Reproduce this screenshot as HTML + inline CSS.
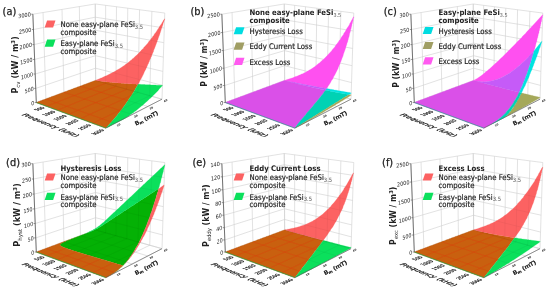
<!DOCTYPE html>
<html><head><meta charset="utf-8"><style>
html,body{margin:0;padding:0;background:#fff;width:550px;height:290px;overflow:hidden}
svg{display:block}
text{font-family:'DejaVu Sans Condensed','DejaVu Sans','Liberation Sans',sans-serif;font-stretch:condensed;}
</style></head><body>
<svg width="550" height="290" viewBox="0 0 550 290">
<rect width="550" height="290" fill="#fff"/>
<line x1="36.30" y1="102.54" x2="95.65" y2="80.51" stroke="#cfcfcf" stroke-width="0.6"/>
<line x1="95.65" y1="80.51" x2="162.00" y2="99.17" stroke="#cfcfcf" stroke-width="0.6"/>
<line x1="35.75" y1="88.40" x2="95.59" y2="68.19" stroke="#cfcfcf" stroke-width="0.6"/>
<line x1="95.59" y1="68.19" x2="162.45" y2="85.37" stroke="#cfcfcf" stroke-width="0.6"/>
<line x1="35.19" y1="74.03" x2="95.52" y2="55.70" stroke="#cfcfcf" stroke-width="0.6"/>
<line x1="95.52" y1="55.70" x2="162.90" y2="71.36" stroke="#cfcfcf" stroke-width="0.6"/>
<line x1="34.63" y1="59.44" x2="95.45" y2="43.04" stroke="#cfcfcf" stroke-width="0.6"/>
<line x1="95.45" y1="43.04" x2="163.35" y2="57.12" stroke="#cfcfcf" stroke-width="0.6"/>
<line x1="34.05" y1="44.60" x2="95.39" y2="30.20" stroke="#cfcfcf" stroke-width="0.6"/>
<line x1="95.39" y1="30.20" x2="163.82" y2="42.66" stroke="#cfcfcf" stroke-width="0.6"/>
<line x1="33.47" y1="29.52" x2="95.32" y2="17.19" stroke="#cfcfcf" stroke-width="0.6"/>
<line x1="95.32" y1="17.19" x2="164.29" y2="27.97" stroke="#cfcfcf" stroke-width="0.6"/>
<line x1="32.87" y1="14.19" x2="95.25" y2="3.98" stroke="#cfcfcf" stroke-width="0.6"/>
<line x1="95.25" y1="3.98" x2="164.77" y2="13.04" stroke="#cfcfcf" stroke-width="0.6"/>
<line x1="36.30" y1="102.54" x2="32.87" y2="14.19" stroke="#cfcfcf" stroke-width="0.6"/>
<line x1="45.92" y1="98.97" x2="43.04" y2="12.52" stroke="#cfcfcf" stroke-width="0.6"/>
<line x1="63.92" y1="92.28" x2="62.01" y2="9.42" stroke="#cfcfcf" stroke-width="0.6"/>
<line x1="80.44" y1="86.15" x2="79.35" y2="6.58" stroke="#cfcfcf" stroke-width="0.6"/>
<line x1="95.65" y1="80.51" x2="95.25" y2="3.98" stroke="#cfcfcf" stroke-width="0.6"/>
<line x1="95.65" y1="80.51" x2="95.25" y2="3.98" stroke="#cfcfcf" stroke-width="0.6"/>
<line x1="105.62" y1="83.31" x2="105.65" y2="5.34" stroke="#cfcfcf" stroke-width="0.6"/>
<line x1="115.99" y1="86.23" x2="116.48" y2="6.75" stroke="#cfcfcf" stroke-width="0.6"/>
<line x1="126.79" y1="89.26" x2="127.78" y2="8.22" stroke="#cfcfcf" stroke-width="0.6"/>
<line x1="138.04" y1="92.43" x2="139.57" y2="9.76" stroke="#cfcfcf" stroke-width="0.6"/>
<line x1="149.76" y1="95.72" x2="151.89" y2="11.36" stroke="#cfcfcf" stroke-width="0.6"/>
<line x1="162.00" y1="99.17" x2="164.77" y2="13.04" stroke="#cfcfcf" stroke-width="0.6"/>
<line x1="46.55" y1="106.31" x2="105.62" y2="83.31" stroke="#cfcfcf" stroke-width="0.6"/>
<line x1="57.28" y1="110.25" x2="115.99" y2="86.23" stroke="#cfcfcf" stroke-width="0.6"/>
<line x1="68.53" y1="114.39" x2="126.79" y2="89.26" stroke="#cfcfcf" stroke-width="0.6"/>
<line x1="80.33" y1="118.73" x2="138.04" y2="92.43" stroke="#cfcfcf" stroke-width="0.6"/>
<line x1="92.73" y1="123.29" x2="149.76" y2="95.72" stroke="#cfcfcf" stroke-width="0.6"/>
<line x1="105.77" y1="128.08" x2="162.00" y2="99.17" stroke="#cfcfcf" stroke-width="0.6"/>
<line x1="45.92" y1="98.97" x2="115.05" y2="123.31" stroke="#cfcfcf" stroke-width="0.6"/>
<line x1="63.92" y1="92.28" x2="132.24" y2="114.47" stroke="#cfcfcf" stroke-width="0.6"/>
<line x1="80.44" y1="86.15" x2="147.82" y2="106.46" stroke="#cfcfcf" stroke-width="0.6"/>
<line x1="95.65" y1="80.51" x2="162.00" y2="99.17" stroke="#cfcfcf" stroke-width="0.6"/>
<path d="M105.88 128.25 L101.88 126.75 L101.38 126.75 L100.62 126.25 L99.38 126.00 L98.62 125.50 L96.62 125.00 L95.88 124.50 L93.88 124.00 L91.12 122.75 L89.12 122.25 L86.38 121.00 L84.38 120.50 L83.62 120.00 L82.38 119.75 L79.62 118.50 L77.62 118.00 L76.88 117.50 L74.88 117.00 L74.12 116.50 L72.12 116.00 L69.38 114.75 L67.38 114.25 L64.62 113.00 L62.62 112.50 L59.88 111.25 L57.88 110.75 L57.12 110.25 L56.62 110.25 L55.62 109.75 L55.12 109.75 L54.38 109.25 L53.12 109.00 L50.38 107.75 L49.88 107.75 L49.62 107.50 L48.38 107.25 L47.62 106.75 L45.62 106.25 L42.88 105.00 L40.88 104.50 L40.12 104.00 L36.88 103.00 L36.38 102.75 L36.25 102.38 L37.62 102.00 L38.38 101.50 L39.62 101.25 L40.38 100.75 L41.62 100.50 L42.38 100.00 L44.38 99.50 L45.12 99.00 L46.38 98.75 L47.12 98.25 L48.38 98.00 L49.12 97.50 L50.38 97.25 L51.12 96.75 L55.12 95.50 L55.88 95.00 L57.12 94.75 L57.88 94.25 L59.12 94.00 L59.88 93.50 L61.12 93.25 L61.88 92.75 L62.38 92.75 L63.38 92.25 L63.88 92.25 L64.62 91.75 L66.62 91.25 L68.62 90.25 L70.62 89.75 L71.38 89.25 L72.62 89.00 L73.38 88.50 L76.62 87.50 L77.38 87.00 L79.38 86.50 L80.12 86.00 L81.38 85.75 L84.12 84.50 L86.12 84.00 L86.88 83.50 L88.12 83.25 L88.88 82.75 L89.38 82.75 L90.88 82.00 L92.12 81.75 L92.88 81.25 L94.12 81.00 L94.88 80.50 L96.88 80.50 L97.12 80.75 L100.38 81.00 L100.62 81.25 L104.62 81.50 L104.88 81.75 L106.88 81.75 L107.12 82.00 L109.38 82.00 L109.62 82.25 L111.88 82.25 L112.12 82.50 L114.62 82.50 L114.88 82.75 L117.62 82.75 L117.88 83.00 L120.88 83.00 L121.12 83.25 L124.12 83.25 L124.38 83.50 L127.88 83.50 L128.12 83.75 L131.88 83.75 L132.12 84.00 L135.88 84.00 L136.12 84.25 L137.88 84.25 L138.00 84.62 L137.75 85.12 L136.50 86.88 L136.00 88.12 L135.50 88.62 L135.00 89.88 L134.50 90.38 L132.75 93.62 L125.00 105.12 L124.25 105.88 L121.25 110.12 L120.25 111.12 L119.50 112.38 L118.25 113.62 L117.50 114.88 L105.88 128.25Z" fill="#c9600f" stroke="#c9600f" stroke-width="0.25" fill-rule="evenodd"/>
<path d="M138.12 84.25 L136.12 84.25 L135.88 84.00 L132.12 84.00 L131.88 83.75 L128.12 83.75 L127.88 83.50 L124.38 83.50 L124.12 83.25 L117.88 83.00 L117.62 82.75 L114.88 82.75 L114.62 82.50 L112.12 82.50 L111.88 82.25 L109.62 82.25 L109.38 82.00 L107.12 82.00 L106.88 81.75 L102.62 81.50 L102.38 81.25 L100.62 81.25 L100.38 81.00 L98.88 81.00 L98.62 80.75 L97.12 80.75 L96.88 80.50 L95.50 80.38 L97.38 79.50 L97.88 79.50 L99.12 78.75 L99.62 78.75 L100.88 78.00 L101.38 78.00 L105.38 76.00 L105.88 76.00 L115.62 71.00 L116.12 70.50 L119.38 68.75 L124.62 65.25 L125.38 64.50 L127.38 63.25 L130.88 60.25 L131.12 60.25 L132.88 58.50 L133.12 58.50 L136.12 55.50 L136.38 55.50 L140.25 51.62 L140.38 51.25 L141.00 50.88 L141.00 50.62 L143.75 47.88 L143.75 47.62 L145.25 46.12 L145.25 45.88 L148.00 42.88 L148.75 41.62 L150.00 40.38 L151.25 38.38 L152.25 37.38 L152.75 36.38 L153.75 35.38 L154.75 33.62 L155.50 32.88 L158.00 28.88 L158.75 28.12 L159.50 26.62 L161.75 23.38 L162.00 22.62 L162.75 21.88 L163.00 21.12 L164.62 18.75 L164.75 19.12 L163.00 23.88 L163.00 24.62 L162.75 24.88 L162.50 26.12 L162.00 27.12 L159.50 35.12 L159.25 35.38 L159.25 35.88 L158.75 36.62 L158.75 37.12 L158.25 38.12 L158.00 39.38 L157.50 40.12 L157.00 42.12 L156.50 42.88 L156.25 44.12 L155.75 44.88 L155.50 46.12 L155.00 46.88 L154.75 48.12 L153.75 50.12 L153.50 51.38 L152.50 53.38 L152.50 53.88 L152.00 54.62 L151.50 56.38 L150.75 57.62 L150.75 58.12 L149.50 60.62 L149.50 61.12 L148.50 62.88 L148.50 63.38 L147.50 65.12 L147.50 65.62 L146.50 67.38 L146.50 67.88 L146.00 68.38 L146.00 68.88 L144.50 71.62 L144.50 72.12 L144.00 72.62 L143.75 73.62 L141.25 78.62 L140.75 79.12 L139.00 82.88 L138.50 83.38 L138.12 84.25Z" fill="#fc6262" stroke="#fc6262" stroke-width="0.25" fill-rule="evenodd"/>
<path d="M106.88 127.75 L106.62 127.75 L106.50 127.38 L110.50 123.12 L110.50 122.88 L117.50 114.88 L118.25 113.62 L119.50 112.38 L120.25 111.12 L121.25 110.12 L122.00 108.88 L125.00 105.12 L132.75 93.62 L133.00 92.88 L135.00 89.88 L135.50 88.62 L136.00 88.12 L136.50 86.88 L137.00 86.38 L138.12 84.25 L140.38 84.25 L140.62 84.50 L145.12 84.50 L145.38 84.75 L150.38 84.75 L150.62 85.00 L156.12 85.00 L156.38 85.25 L162.12 85.25 L162.50 85.62 L158.75 89.62 L158.75 89.88 L158.38 90.00 L158.25 90.38 L150.12 98.50 L149.88 98.50 L146.62 101.75 L146.38 101.75 L142.38 105.50 L142.12 105.50 L135.62 111.00 L134.62 111.50 L133.62 112.50 L130.12 114.75 L129.38 115.50 L127.12 117.00 L126.38 117.25 L125.12 118.25 L124.38 118.50 L123.88 119.00 L111.88 125.00 L111.38 125.50 L110.88 125.50 L110.38 126.00 L106.88 127.75ZM106.38 128.00 L106.38 127.75 L106.38 128.00Z" fill="#0be05c" stroke="#0be05c" stroke-width="0.25" fill-rule="evenodd"/>
<clipPath id="su0"><path d="M105.88 128.25 L93.88 124.00 L91.12 122.75 L89.12 122.25 L86.38 121.00 L84.38 120.50 L79.62 118.50 L77.62 118.00 L76.88 117.50 L74.88 117.00 L74.12 116.50 L72.12 116.00 L69.38 114.75 L67.38 114.25 L64.62 113.00 L62.62 112.50 L59.88 111.25 L55.12 109.75 L50.38 107.75 L45.62 106.25 L42.88 105.00 L40.88 104.50 L40.12 104.00 L36.88 103.00 L36.25 102.38 L97.88 79.50 L105.38 76.00 L105.88 76.00 L113.38 72.25 L121.38 67.50 L127.38 63.25 L133.12 58.50 L143.75 47.88 L153.75 35.38 L159.25 27.38 L164.62 18.75 L164.75 19.12 L159.25 35.88 L158.75 36.62 L157.00 42.12 L151.50 56.38 L146.50 67.88 L146.00 68.38 L146.00 68.88 L144.50 71.62 L144.50 72.12 L144.00 72.62 L141.25 78.62 L138.25 83.88 L138.38 84.25 L140.38 84.25 L140.62 84.50 L156.12 85.00 L156.38 85.25 L162.12 85.25 L162.50 85.62 L158.75 89.88 L150.12 98.50 L142.38 105.50 L135.62 111.00 L129.38 115.50 L123.88 119.00 L105.88 128.25Z" fill-rule="evenodd"/></clipPath>
<g clip-path="url(#su0)" stroke-opacity="0.07"><line x1="36.30" y1="102.54" x2="95.65" y2="80.51" stroke="#000" stroke-width="0.6"/>
<line x1="95.65" y1="80.51" x2="162.00" y2="99.17" stroke="#000" stroke-width="0.6"/>
<line x1="35.75" y1="88.40" x2="95.59" y2="68.19" stroke="#000" stroke-width="0.6"/>
<line x1="95.59" y1="68.19" x2="162.45" y2="85.37" stroke="#000" stroke-width="0.6"/>
<line x1="35.19" y1="74.03" x2="95.52" y2="55.70" stroke="#000" stroke-width="0.6"/>
<line x1="95.52" y1="55.70" x2="162.90" y2="71.36" stroke="#000" stroke-width="0.6"/>
<line x1="34.63" y1="59.44" x2="95.45" y2="43.04" stroke="#000" stroke-width="0.6"/>
<line x1="95.45" y1="43.04" x2="163.35" y2="57.12" stroke="#000" stroke-width="0.6"/>
<line x1="34.05" y1="44.60" x2="95.39" y2="30.20" stroke="#000" stroke-width="0.6"/>
<line x1="95.39" y1="30.20" x2="163.82" y2="42.66" stroke="#000" stroke-width="0.6"/>
<line x1="33.47" y1="29.52" x2="95.32" y2="17.19" stroke="#000" stroke-width="0.6"/>
<line x1="95.32" y1="17.19" x2="164.29" y2="27.97" stroke="#000" stroke-width="0.6"/>
<line x1="32.87" y1="14.19" x2="95.25" y2="3.98" stroke="#000" stroke-width="0.6"/>
<line x1="95.25" y1="3.98" x2="164.77" y2="13.04" stroke="#000" stroke-width="0.6"/>
<line x1="36.30" y1="102.54" x2="32.87" y2="14.19" stroke="#000" stroke-width="0.6"/>
<line x1="45.92" y1="98.97" x2="43.04" y2="12.52" stroke="#000" stroke-width="0.6"/>
<line x1="63.92" y1="92.28" x2="62.01" y2="9.42" stroke="#000" stroke-width="0.6"/>
<line x1="80.44" y1="86.15" x2="79.35" y2="6.58" stroke="#000" stroke-width="0.6"/>
<line x1="95.65" y1="80.51" x2="95.25" y2="3.98" stroke="#000" stroke-width="0.6"/>
<line x1="95.65" y1="80.51" x2="95.25" y2="3.98" stroke="#000" stroke-width="0.6"/>
<line x1="105.62" y1="83.31" x2="105.65" y2="5.34" stroke="#000" stroke-width="0.6"/>
<line x1="115.99" y1="86.23" x2="116.48" y2="6.75" stroke="#000" stroke-width="0.6"/>
<line x1="126.79" y1="89.26" x2="127.78" y2="8.22" stroke="#000" stroke-width="0.6"/>
<line x1="138.04" y1="92.43" x2="139.57" y2="9.76" stroke="#000" stroke-width="0.6"/>
<line x1="149.76" y1="95.72" x2="151.89" y2="11.36" stroke="#000" stroke-width="0.6"/>
<line x1="162.00" y1="99.17" x2="164.77" y2="13.04" stroke="#000" stroke-width="0.6"/>
<line x1="46.55" y1="106.31" x2="105.62" y2="83.31" stroke="#000" stroke-width="0.6"/>
<line x1="57.28" y1="110.25" x2="115.99" y2="86.23" stroke="#000" stroke-width="0.6"/>
<line x1="68.53" y1="114.39" x2="126.79" y2="89.26" stroke="#000" stroke-width="0.6"/>
<line x1="80.33" y1="118.73" x2="138.04" y2="92.43" stroke="#000" stroke-width="0.6"/>
<line x1="92.73" y1="123.29" x2="149.76" y2="95.72" stroke="#000" stroke-width="0.6"/>
<line x1="105.77" y1="128.08" x2="162.00" y2="99.17" stroke="#000" stroke-width="0.6"/>
<line x1="45.92" y1="98.97" x2="115.05" y2="123.31" stroke="#000" stroke-width="0.6"/>
<line x1="63.92" y1="92.28" x2="132.24" y2="114.47" stroke="#000" stroke-width="0.6"/>
<line x1="80.44" y1="86.15" x2="147.82" y2="106.46" stroke="#000" stroke-width="0.6"/>
<line x1="95.65" y1="80.51" x2="162.00" y2="99.17" stroke="#000" stroke-width="0.6"/></g>
<clipPath id="or0"><path d="M105.88 128.25 L101.88 126.75 L101.38 126.75 L100.62 126.25 L99.38 126.00 L98.62 125.50 L96.62 125.00 L95.88 124.50 L93.88 124.00 L91.12 122.75 L89.12 122.25 L86.38 121.00 L84.38 120.50 L83.62 120.00 L82.38 119.75 L79.62 118.50 L77.62 118.00 L76.88 117.50 L74.88 117.00 L74.12 116.50 L72.12 116.00 L69.38 114.75 L67.38 114.25 L64.62 113.00 L62.62 112.50 L59.88 111.25 L57.88 110.75 L57.12 110.25 L56.62 110.25 L55.62 109.75 L55.12 109.75 L54.38 109.25 L53.12 109.00 L50.38 107.75 L49.88 107.75 L49.62 107.50 L48.38 107.25 L47.62 106.75 L45.62 106.25 L42.88 105.00 L40.88 104.50 L40.12 104.00 L36.88 103.00 L36.38 102.75 L36.25 102.38 L37.62 102.00 L38.38 101.50 L39.62 101.25 L40.38 100.75 L41.62 100.50 L42.38 100.00 L44.38 99.50 L45.12 99.00 L46.38 98.75 L47.12 98.25 L48.38 98.00 L49.12 97.50 L50.38 97.25 L51.12 96.75 L55.12 95.50 L55.88 95.00 L57.12 94.75 L57.88 94.25 L59.12 94.00 L59.88 93.50 L61.12 93.25 L61.88 92.75 L62.38 92.75 L63.38 92.25 L63.88 92.25 L64.62 91.75 L66.62 91.25 L68.62 90.25 L70.62 89.75 L71.38 89.25 L72.62 89.00 L73.38 88.50 L76.62 87.50 L77.38 87.00 L79.38 86.50 L80.12 86.00 L81.38 85.75 L84.12 84.50 L86.12 84.00 L86.88 83.50 L88.12 83.25 L88.88 82.75 L89.38 82.75 L90.88 82.00 L92.12 81.75 L92.88 81.25 L94.12 81.00 L94.88 80.50 L96.88 80.50 L97.12 80.75 L100.38 81.00 L100.62 81.25 L104.62 81.50 L104.88 81.75 L106.88 81.75 L107.12 82.00 L109.38 82.00 L109.62 82.25 L111.88 82.25 L112.12 82.50 L114.62 82.50 L114.88 82.75 L117.62 82.75 L117.88 83.00 L120.88 83.00 L121.12 83.25 L124.12 83.25 L124.38 83.50 L127.88 83.50 L128.12 83.75 L131.88 83.75 L132.12 84.00 L135.88 84.00 L136.12 84.25 L137.88 84.25 L138.00 84.62 L137.75 85.12 L136.50 86.88 L136.00 88.12 L135.50 88.62 L135.00 89.88 L134.50 90.38 L132.75 93.62 L125.00 105.12 L124.25 105.88 L121.25 110.12 L120.25 111.12 L119.50 112.38 L118.25 113.62 L117.50 114.88 L105.88 128.25Z" fill-rule="evenodd"/></clipPath>
<g clip-path="url(#or0)" stroke-opacity="0.45"><line x1="46.55" y1="106.31" x2="105.62" y2="83.31" stroke="#ff3a10" stroke-width="0.6"/>
<line x1="57.28" y1="110.25" x2="115.99" y2="86.23" stroke="#ff3a10" stroke-width="0.6"/>
<line x1="68.53" y1="114.39" x2="126.79" y2="89.26" stroke="#ff3a10" stroke-width="0.6"/>
<line x1="80.33" y1="118.73" x2="138.04" y2="92.43" stroke="#ff3a10" stroke-width="0.6"/>
<line x1="92.73" y1="123.29" x2="149.76" y2="95.72" stroke="#ff3a10" stroke-width="0.6"/>
<line x1="45.92" y1="98.97" x2="115.05" y2="123.31" stroke="#ff3a10" stroke-width="0.6"/>
<line x1="63.92" y1="92.28" x2="132.24" y2="114.47" stroke="#ff3a10" stroke-width="0.6"/>
<line x1="80.44" y1="86.15" x2="147.82" y2="106.46" stroke="#ff3a10" stroke-width="0.6"/></g>
<line x1="36.30" y1="102.54" x2="105.77" y2="128.08" stroke="#18a040" stroke-width="0.7"/>
<line x1="36.30" y1="102.54" x2="32.87" y2="14.19" stroke="#555" stroke-width="0.8"/>
<line x1="34.70" y1="102.54" x2="36.30" y2="102.54" stroke="#555" stroke-width="0.6"/>
<text transform="matrix(0.9375 -0.3480 0.0387 0.9992 34.30 104.54)" font-size="5.6" text-anchor="end" font-weight="normal" fill="#222">0</text>
<line x1="34.15" y1="88.40" x2="35.75" y2="88.40" stroke="#555" stroke-width="0.6"/>
<text transform="matrix(0.9474 -0.3200 0.0387 0.9992 33.75 90.40)" font-size="5.6" text-anchor="end" font-weight="normal" fill="#222">500</text>
<line x1="33.59" y1="74.03" x2="35.19" y2="74.03" stroke="#555" stroke-width="0.6"/>
<text transform="matrix(0.9568 -0.2907 0.0387 0.9992 33.19 76.03)" font-size="5.6" text-anchor="end" font-weight="normal" fill="#222">1000</text>
<line x1="33.03" y1="59.44" x2="34.63" y2="59.44" stroke="#555" stroke-width="0.6"/>
<text transform="matrix(0.9655 -0.2602 0.0387 0.9992 32.63 61.44)" font-size="5.6" text-anchor="end" font-weight="normal" fill="#222">1500</text>
<line x1="32.45" y1="44.60" x2="34.05" y2="44.60" stroke="#555" stroke-width="0.6"/>
<text transform="matrix(0.9735 -0.2285 0.0387 0.9992 32.05 46.60)" font-size="5.6" text-anchor="end" font-weight="normal" fill="#222">2000</text>
<line x1="31.87" y1="29.52" x2="33.47" y2="29.52" stroke="#555" stroke-width="0.6"/>
<text transform="matrix(0.9807 -0.1955 0.0387 0.9992 31.47 31.52)" font-size="5.6" text-anchor="end" font-weight="normal" fill="#222">2500</text>
<line x1="31.27" y1="14.19" x2="32.87" y2="14.19" stroke="#555" stroke-width="0.6"/>
<text transform="matrix(0.9869 -0.1615 0.0387 0.9992 30.87 16.19)" font-size="5.6" text-anchor="end" font-weight="normal" fill="#222">3000</text>
<text transform="matrix(0.9319 -0.3628 1.0305 0.3849 45.28 107.96)" font-size="5.0" text-anchor="end" font-weight="normal" fill="#222" stroke="#222" stroke-width="0.25">500</text>
<text transform="matrix(0.9255 -0.3787 1.0305 0.3849 56.02 111.97)" font-size="5.0" text-anchor="end" font-weight="normal" fill="#222" stroke="#222" stroke-width="0.25">1000</text>
<text transform="matrix(0.9182 -0.3960 1.0305 0.3849 67.28 116.18)" font-size="5.0" text-anchor="end" font-weight="normal" fill="#222" stroke="#222" stroke-width="0.25">1500</text>
<text transform="matrix(0.9099 -0.4148 1.0305 0.3849 79.11 120.59)" font-size="5.0" text-anchor="end" font-weight="normal" fill="#222" stroke="#222" stroke-width="0.25">2000</text>
<text transform="matrix(0.9004 -0.4351 1.0305 0.3849 91.53 125.23)" font-size="5.0" text-anchor="end" font-weight="normal" fill="#222" stroke="#222" stroke-width="0.25">2500</text>
<text transform="matrix(0.8893 -0.4573 1.0305 0.3849 104.60 130.11)" font-size="5.0" text-anchor="end" font-weight="normal" fill="#222" stroke="#222" stroke-width="0.25">3000</text>
<text transform="matrix(0.9267 0.3757 -0.7969 0.2958 21.08 114.90)" font-size="8.1" text-anchor="start" font-weight="normal" fill="#222" stroke="#222" stroke-width="0.4">Frequency (kHz)</text>
<line x1="105.77" y1="128.08" x2="162.00" y2="99.17" stroke="#555" stroke-width="0.6"/>
<text transform="translate(119.0,125.7) rotate(-28) scale(1,0.8)" font-size="3.2" font-weight="bold" text-anchor="middle" fill="#222">10</text>
<text transform="translate(136.2,116.9) rotate(-28) scale(1,0.8)" font-size="3.2" font-weight="bold" text-anchor="middle" fill="#222">20</text>
<text transform="translate(151.8,108.9) rotate(-28) scale(1,0.8)" font-size="3.2" font-weight="bold" text-anchor="middle" fill="#222">30</text>
<text transform="translate(166.0,101.6) rotate(-28) scale(1,0.8)" font-size="3.2" font-weight="bold" text-anchor="middle" fill="#222">40</text>
<text transform="translate(136.0,125.6) rotate(-27) scale(1,0.75)" font-size="7" font-weight="normal" fill="#222" stroke="#222" stroke-width="0.45">B<tspan font-size="4.6" dy="1.3">m</tspan><tspan dy="-1.3"> (mT)</tspan></text>
<text transform="translate(18.3,93.6) rotate(-90)" font-size="8.2" font-weight="bold" fill="#222" textLength="57.3" lengthAdjust="spacingAndGlyphs">P<tspan font-size="5.6" font-weight="normal" dy="1.8">cv</tspan><tspan dy="-1.8"> (kW / m</tspan><tspan font-size="5.4" dy="-3.2">3</tspan><tspan dy="3.2">)</tspan></text>
<text x="2.6" y="15.4" font-size="9.8" fill="#222" style="font-family:'DejaVu Sans',sans-serif;font-stretch:normal" stroke="#222" stroke-width="0.25">(a)</text>
<polygon points="47.1,20.4 55.5,20.4 53.1,27.5 44.7,27.5" fill="#fc6262"/>
<text x="60.5" y="27.1" font-size="7.7" fill="#222" stroke="#222" stroke-width="0.18">None easy-plane FeSi<tspan font-size="5.8" fill="#555" stroke="none" dy="1.6">3.5</tspan></text>
<text x="60.5" y="34.8" font-size="7.7" fill="#222" stroke="#222" stroke-width="0.18">composite</text>
<polygon points="47.1,39.6 55.5,39.6 53.1,46.7 44.7,46.7" fill="#0be05c"/>
<text x="60.5" y="46.3" font-size="7.7" fill="#222" stroke="#222" stroke-width="0.18">Easy-plane FeSi<tspan font-size="5.8" fill="#555" stroke="none" dy="1.6">3.5</tspan></text>
<text x="60.5" y="54.0" font-size="7.7" fill="#222" stroke="#222" stroke-width="0.18">composite</text>
<line x1="225.30" y1="102.54" x2="284.65" y2="80.51" stroke="#cfcfcf" stroke-width="0.6"/>
<line x1="284.65" y1="80.51" x2="351.00" y2="99.17" stroke="#cfcfcf" stroke-width="0.6"/>
<line x1="224.64" y1="85.54" x2="284.57" y2="65.71" stroke="#cfcfcf" stroke-width="0.6"/>
<line x1="284.57" y1="65.71" x2="351.54" y2="82.58" stroke="#cfcfcf" stroke-width="0.6"/>
<line x1="223.97" y1="68.22" x2="284.49" y2="50.66" stroke="#cfcfcf" stroke-width="0.6"/>
<line x1="284.49" y1="50.66" x2="352.08" y2="65.69" stroke="#cfcfcf" stroke-width="0.6"/>
<line x1="223.28" y1="50.56" x2="284.41" y2="35.36" stroke="#cfcfcf" stroke-width="0.6"/>
<line x1="284.41" y1="35.36" x2="352.63" y2="48.47" stroke="#cfcfcf" stroke-width="0.6"/>
<line x1="222.58" y1="32.55" x2="284.33" y2="19.80" stroke="#cfcfcf" stroke-width="0.6"/>
<line x1="284.33" y1="19.80" x2="353.20" y2="30.93" stroke="#cfcfcf" stroke-width="0.6"/>
<line x1="221.87" y1="14.19" x2="284.25" y2="3.98" stroke="#cfcfcf" stroke-width="0.6"/>
<line x1="284.25" y1="3.98" x2="353.77" y2="13.04" stroke="#cfcfcf" stroke-width="0.6"/>
<line x1="225.30" y1="102.54" x2="221.87" y2="14.19" stroke="#cfcfcf" stroke-width="0.6"/>
<line x1="234.92" y1="98.97" x2="232.04" y2="12.52" stroke="#cfcfcf" stroke-width="0.6"/>
<line x1="252.92" y1="92.28" x2="251.01" y2="9.42" stroke="#cfcfcf" stroke-width="0.6"/>
<line x1="269.44" y1="86.15" x2="268.35" y2="6.58" stroke="#cfcfcf" stroke-width="0.6"/>
<line x1="284.65" y1="80.51" x2="284.25" y2="3.98" stroke="#cfcfcf" stroke-width="0.6"/>
<line x1="284.65" y1="80.51" x2="284.25" y2="3.98" stroke="#cfcfcf" stroke-width="0.6"/>
<line x1="294.62" y1="83.31" x2="294.65" y2="5.34" stroke="#cfcfcf" stroke-width="0.6"/>
<line x1="304.99" y1="86.23" x2="305.48" y2="6.75" stroke="#cfcfcf" stroke-width="0.6"/>
<line x1="315.79" y1="89.26" x2="316.78" y2="8.22" stroke="#cfcfcf" stroke-width="0.6"/>
<line x1="327.04" y1="92.43" x2="328.57" y2="9.76" stroke="#cfcfcf" stroke-width="0.6"/>
<line x1="338.76" y1="95.72" x2="340.89" y2="11.36" stroke="#cfcfcf" stroke-width="0.6"/>
<line x1="351.00" y1="99.17" x2="353.77" y2="13.04" stroke="#cfcfcf" stroke-width="0.6"/>
<line x1="235.55" y1="106.31" x2="294.62" y2="83.31" stroke="#cfcfcf" stroke-width="0.6"/>
<line x1="246.28" y1="110.25" x2="304.99" y2="86.23" stroke="#cfcfcf" stroke-width="0.6"/>
<line x1="257.53" y1="114.39" x2="315.79" y2="89.26" stroke="#cfcfcf" stroke-width="0.6"/>
<line x1="269.33" y1="118.73" x2="327.04" y2="92.43" stroke="#cfcfcf" stroke-width="0.6"/>
<line x1="281.73" y1="123.29" x2="338.76" y2="95.72" stroke="#cfcfcf" stroke-width="0.6"/>
<line x1="294.77" y1="128.08" x2="351.00" y2="99.17" stroke="#cfcfcf" stroke-width="0.6"/>
<line x1="234.92" y1="98.97" x2="304.05" y2="123.31" stroke="#cfcfcf" stroke-width="0.6"/>
<line x1="252.92" y1="92.28" x2="321.24" y2="114.47" stroke="#cfcfcf" stroke-width="0.6"/>
<line x1="269.44" y1="86.15" x2="336.82" y2="106.46" stroke="#cfcfcf" stroke-width="0.6"/>
<line x1="284.65" y1="80.51" x2="351.00" y2="99.17" stroke="#cfcfcf" stroke-width="0.6"/>
<path d="M294.88 128.25 L290.88 126.75 L290.38 126.75 L289.62 126.25 L288.38 126.00 L287.62 125.50 L285.62 125.00 L284.88 124.50 L282.88 124.00 L280.12 122.75 L278.12 122.25 L275.38 121.00 L273.38 120.50 L272.62 120.00 L271.38 119.75 L268.62 118.50 L266.62 118.00 L265.88 117.50 L263.88 117.00 L263.12 116.50 L261.12 116.00 L258.38 114.75 L256.38 114.25 L253.62 113.00 L251.62 112.50 L248.88 111.25 L246.88 110.75 L246.12 110.25 L245.62 110.25 L244.62 109.75 L244.12 109.75 L243.38 109.25 L242.12 109.00 L239.38 107.75 L238.88 107.75 L238.62 107.50 L237.38 107.25 L236.62 106.75 L234.62 106.25 L231.88 105.00 L229.88 104.50 L229.12 104.00 L225.88 103.00 L225.38 102.75 L225.25 102.38 L226.62 102.00 L227.38 101.50 L228.62 101.25 L229.38 100.75 L230.62 100.50 L231.38 100.00 L233.38 99.50 L234.12 99.00 L235.38 98.75 L236.12 98.25 L237.38 98.00 L238.12 97.50 L239.38 97.25 L240.12 96.75 L244.12 95.50 L244.88 95.00 L246.12 94.75 L246.88 94.25 L248.12 94.00 L248.88 93.50 L250.12 93.25 L250.88 92.75 L251.38 92.75 L252.38 92.25 L252.88 92.25 L253.62 91.75 L255.62 91.25 L257.62 90.25 L259.62 89.75 L260.38 89.25 L261.62 89.00 L262.38 88.50 L265.62 87.50 L266.38 87.00 L268.38 86.50 L269.12 86.00 L270.38 85.75 L273.12 84.50 L275.12 84.00 L275.88 83.50 L277.12 83.25 L277.88 82.75 L278.38 82.75 L279.88 82.00 L281.12 81.75 L281.88 81.25 L283.12 81.00 L283.88 80.50 L285.62 80.50 L288.38 81.50 L290.12 81.75 L291.12 82.25 L294.88 83.00 L295.88 83.50 L296.62 83.50 L296.88 83.75 L297.62 83.75 L298.88 84.25 L299.62 84.25 L300.88 84.75 L304.62 85.50 L304.88 85.75 L305.88 85.75 L306.12 86.00 L307.88 86.25 L309.12 86.75 L310.12 86.75 L310.38 87.00 L312.12 87.25 L312.38 87.50 L313.38 87.50 L314.62 88.00 L316.62 88.25 L316.88 88.50 L317.88 88.50 L318.12 88.75 L319.12 88.75 L320.38 89.25 L321.38 89.25 L321.62 89.50 L322.62 89.50 L322.88 89.75 L324.88 90.00 L325.25 90.62 L322.50 94.38 L321.50 95.38 L320.75 96.62 L319.75 97.62 L319.75 97.88 L318.75 98.88 L316.75 101.62 L315.50 102.88 L315.50 103.12 L314.00 104.62 L313.00 106.12 L310.00 109.38 L310.00 109.62 L308.75 110.88 L307.50 112.62 L306.00 114.12 L306.00 114.38 L304.50 115.88 L304.50 116.12 L302.00 118.88 L301.00 120.38 L299.75 121.62 L299.75 121.88 L295.50 127.12 L294.88 128.25Z" fill="#da50e8" stroke="#da50e8" stroke-width="0.25" fill-rule="evenodd"/>
<path d="M326.62 88.50 L324.38 88.25 L324.12 88.00 L323.12 88.00 L322.88 87.75 L321.62 87.75 L321.38 87.50 L320.12 87.50 L319.88 87.25 L318.88 87.25 L318.62 87.00 L317.38 87.00 L317.12 86.75 L316.12 86.75 L315.88 86.50 L314.88 86.50 L314.62 86.25 L313.38 86.25 L313.12 86.00 L310.88 85.75 L310.62 85.50 L309.38 85.50 L309.12 85.25 L308.12 85.25 L307.88 85.00 L306.88 85.00 L306.62 84.75 L305.38 84.75 L305.12 84.50 L304.12 84.50 L303.88 84.25 L302.88 84.25 L302.62 84.00 L301.62 84.00 L301.38 83.75 L300.38 83.75 L300.12 83.50 L299.12 83.50 L298.88 83.25 L296.62 83.00 L296.38 82.75 L295.38 82.75 L295.12 82.50 L294.12 82.50 L293.88 82.25 L292.88 82.25 L292.62 82.00 L290.38 81.75 L289.12 81.25 L288.12 81.25 L287.88 81.00 L286.88 81.00 L286.62 80.75 L284.50 80.38 L285.38 80.25 L286.38 79.75 L292.88 77.75 L295.62 76.50 L296.88 76.25 L299.38 75.00 L299.88 75.00 L301.62 74.00 L302.12 74.00 L306.62 71.75 L307.12 71.25 L308.38 70.75 L308.88 70.25 L310.88 69.25 L314.62 66.75 L318.88 63.25 L319.12 63.25 L323.12 59.50 L323.38 59.50 L327.25 55.62 L327.25 55.38 L331.50 50.88 L332.50 49.38 L334.75 46.88 L336.25 44.62 L337.25 43.62 L337.50 42.88 L338.50 41.88 L338.75 41.12 L340.25 39.38 L341.50 37.12 L343.50 34.38 L343.75 33.62 L345.25 31.62 L346.50 29.12 L349.25 24.88 L350.00 23.12 L350.50 22.62 L351.75 19.88 L352.25 19.38 L353.25 17.12 L353.62 16.75 L353.75 17.38 L353.25 18.62 L353.00 20.88 L352.50 22.12 L352.50 23.12 L352.00 24.12 L351.75 26.12 L351.50 26.38 L351.50 27.12 L351.25 27.38 L351.25 28.12 L350.75 29.38 L350.25 32.12 L349.75 33.12 L349.00 36.88 L348.50 37.88 L348.25 39.62 L348.00 39.88 L347.75 41.38 L346.75 43.88 L346.75 44.62 L346.00 46.38 L346.00 47.12 L345.75 47.38 L345.50 48.62 L343.50 54.12 L343.00 56.12 L341.75 58.88 L341.50 60.12 L341.00 60.88 L341.00 61.38 L340.50 62.12 L340.00 63.88 L339.00 65.62 L339.00 66.12 L338.25 67.38 L338.25 67.88 L334.50 75.62 L334.00 76.12 L332.75 78.88 L331.50 80.62 L330.25 83.12 L326.62 88.50Z" fill="#ff50f0" stroke="#ff50f0" stroke-width="0.25" fill-rule="evenodd"/>
<path d="M295.38 128.00 L295.00 127.88 L297.75 124.12 L304.50 116.12 L304.50 115.88 L306.00 114.38 L306.00 114.12 L310.00 109.62 L310.00 109.38 L313.00 106.12 L314.00 104.62 L316.75 101.62 L316.75 101.38 L320.75 96.62 L321.50 95.38 L322.50 94.38 L325.38 90.25 L327.38 90.50 L327.62 90.75 L328.62 90.75 L328.88 91.00 L329.88 91.00 L330.12 91.25 L331.38 91.25 L331.62 91.50 L332.62 91.50 L332.88 91.75 L333.88 91.75 L334.12 92.00 L335.12 92.00 L335.38 92.25 L336.38 92.25 L336.62 92.50 L337.88 92.50 L338.12 92.75 L339.12 92.75 L339.38 93.00 L342.12 93.25 L342.38 93.50 L344.88 93.75 L345.12 94.00 L346.38 94.00 L346.62 94.25 L347.88 94.25 L348.12 94.50 L349.00 94.62 L348.12 95.00 L346.88 96.00 L346.12 96.25 L345.62 96.75 L344.88 97.00 L344.38 97.50 L343.62 97.75 L341.62 99.25 L339.62 100.25 L337.62 101.75 L335.62 102.75 L332.38 105.00 L330.38 106.00 L325.12 109.50 L323.12 110.50 L321.12 112.00 L319.12 113.00 L317.88 114.00 L317.12 114.25 L313.88 116.50 L313.12 116.75 L311.88 117.75 L309.88 118.75 L307.88 120.25 L307.12 120.50 L304.62 122.25 L302.62 123.25 L300.62 124.75 L298.62 125.75 L295.38 128.00Z" fill="#00d2b4" stroke="#00d2b4" stroke-width="0.25" fill-rule="evenodd"/>
<path d="M298.62 126.25 L298.25 126.12 L298.62 125.75 L300.62 124.75 L302.62 123.25 L304.62 122.25 L307.12 120.50 L307.88 120.25 L309.88 118.75 L311.88 117.75 L313.12 116.75 L313.88 116.50 L319.12 113.00 L321.12 112.00 L323.12 110.50 L325.12 109.50 L330.38 106.00 L334.38 103.75 L335.62 102.75 L337.62 101.75 L339.62 100.25 L341.62 99.25 L343.62 97.75 L346.88 96.00 L348.12 95.00 L349.38 94.50 L349.62 94.75 L350.88 94.75 L351.25 95.12 L346.88 98.00 L346.12 98.25 L344.88 99.25 L344.12 99.50 L342.88 100.50 L340.88 101.50 L339.62 102.50 L336.38 104.25 L335.12 105.25 L334.38 105.50 L333.88 106.00 L333.12 106.25 L332.62 106.75 L328.12 109.25 L327.62 109.75 L326.38 110.25 L322.12 113.00 L320.88 113.50 L319.12 114.75 L317.88 115.25 L317.38 115.75 L313.12 118.00 L312.62 118.50 L311.38 119.00 L310.88 119.50 L309.62 120.00 L309.12 120.50 L307.38 121.25 L306.88 121.75 L305.62 122.25 L305.12 122.75 L303.38 123.50 L302.88 124.00 L300.62 125.00 L300.12 125.50 L298.62 126.25ZM298.12 126.50 L297.75 126.38 L298.12 126.25 L298.12 126.50ZM297.62 126.75 L297.62 126.50 L297.62 126.75ZM297.12 127.00 L297.12 126.75 L297.12 127.00ZM296.88 127.25 L296.50 127.12 L296.88 127.00 L296.88 127.25ZM296.38 127.50 L296.38 127.25 L296.38 127.50ZM295.88 127.75 L295.88 127.50 L295.88 127.75Z" fill="#a5a85a" stroke="#a5a85a" stroke-width="0.25" fill-rule="evenodd"/>
<path d="M349.12 94.50 L346.62 94.25 L346.38 94.00 L345.12 94.00 L344.88 93.75 L343.62 93.75 L343.38 93.50 L340.88 93.25 L340.62 93.00 L339.38 93.00 L339.12 92.75 L338.12 92.75 L337.88 92.50 L336.62 92.50 L336.38 92.25 L335.38 92.25 L335.12 92.00 L331.62 91.50 L331.38 91.25 L330.12 91.25 L329.88 91.00 L328.88 91.00 L328.62 90.75 L327.62 90.75 L327.38 90.50 L326.38 90.50 L325.50 90.12 L326.25 88.88 L326.88 88.50 L327.12 88.75 L328.38 88.75 L328.62 89.00 L329.62 89.00 L329.88 89.25 L332.62 89.50 L332.88 89.75 L333.88 89.75 L334.12 90.00 L336.88 90.25 L337.12 90.50 L338.12 90.50 L338.38 90.75 L339.62 90.75 L339.88 91.00 L341.12 91.00 L341.38 91.25 L342.62 91.25 L342.88 91.50 L344.12 91.50 L344.38 91.75 L345.38 91.75 L345.62 92.00 L346.88 92.00 L347.12 92.25 L348.38 92.25 L348.62 92.50 L349.88 92.50 L350.12 92.75 L351.25 92.88 L350.88 93.50 L350.12 93.75 L349.12 94.50Z" fill="#00e3e0" stroke="#00e3e0" stroke-width="0.25" fill-rule="evenodd"/>
<path d="M286.62 81.00 L286.62 80.75 L286.62 81.00ZM287.88 81.25 L287.50 81.12 L287.88 81.00 L287.88 81.25ZM289.12 81.50 L288.25 81.38 L289.12 81.25 L289.12 81.50ZM290.12 81.75 L289.25 81.62 L290.12 81.50 L290.12 81.75ZM325.38 90.25 L324.12 90.00 L323.88 89.75 L322.88 89.75 L322.62 89.50 L320.38 89.25 L319.12 88.75 L316.88 88.50 L315.62 88.00 L314.62 88.00 L313.38 87.50 L312.38 87.50 L312.12 87.25 L310.38 87.00 L310.12 86.75 L309.12 86.75 L308.88 86.50 L308.12 86.50 L307.88 86.25 L306.12 86.00 L305.88 85.75 L304.88 85.75 L304.62 85.50 L303.88 85.50 L302.62 85.00 L301.88 85.00 L300.62 84.50 L298.88 84.25 L298.62 84.00 L296.88 83.75 L296.62 83.50 L295.88 83.50 L294.88 83.00 L294.12 83.00 L293.88 82.75 L293.12 82.75 L292.88 82.50 L292.12 82.50 L291.88 82.25 L291.12 82.25 L290.25 81.88 L291.38 81.75 L291.62 82.00 L292.62 82.00 L292.88 82.25 L295.12 82.50 L295.38 82.75 L296.38 82.75 L296.62 83.00 L297.62 83.00 L297.88 83.25 L298.88 83.25 L299.12 83.50 L300.12 83.50 L300.38 83.75 L301.38 83.75 L301.62 84.00 L305.12 84.50 L305.38 84.75 L306.62 84.75 L306.88 85.00 L307.88 85.00 L308.12 85.25 L309.12 85.25 L309.38 85.50 L310.62 85.50 L310.88 85.75 L311.88 85.75 L312.12 86.00 L313.12 86.00 L313.38 86.25 L314.62 86.25 L314.88 86.50 L315.88 86.50 L316.12 86.75 L317.12 86.75 L317.38 87.00 L318.62 87.00 L318.88 87.25 L319.88 87.25 L320.12 87.50 L321.38 87.50 L321.62 87.75 L322.88 87.75 L323.12 88.00 L324.12 88.00 L324.38 88.25 L325.62 88.25 L325.88 88.50 L326.38 88.50 L326.25 89.12 L325.38 90.25Z" fill="#c55bf8" stroke="#c55bf8" stroke-width="0.25" fill-rule="evenodd"/>
<clipPath id="su1"><path d="M294.88 128.25 L282.88 124.00 L280.12 122.75 L278.12 122.25 L275.38 121.00 L273.38 120.50 L268.62 118.50 L266.62 118.00 L265.88 117.50 L263.88 117.00 L263.12 116.50 L261.12 116.00 L258.38 114.75 L256.38 114.25 L253.62 113.00 L251.62 112.50 L248.88 111.25 L244.12 109.75 L239.38 107.75 L234.62 106.25 L231.88 105.00 L229.88 104.50 L229.12 104.00 L225.88 103.00 L225.25 102.38 L250.12 93.25 L250.88 92.75 L255.62 91.25 L266.38 87.00 L268.38 86.50 L273.12 84.50 L275.12 84.00 L283.88 80.50 L285.38 80.25 L296.88 76.25 L306.62 71.75 L314.62 66.75 L323.38 59.50 L329.75 52.88 L334.75 46.88 L340.25 39.38 L345.25 31.62 L353.62 16.75 L353.75 17.38 L353.25 18.62 L352.50 23.12 L352.00 24.12 L351.75 26.12 L348.25 39.62 L346.75 43.88 L346.00 47.12 L341.50 60.12 L338.25 67.88 L334.50 75.62 L330.25 83.12 L326.75 88.38 L327.12 88.75 L328.38 88.75 L329.88 89.25 L331.12 89.25 L338.38 90.75 L351.12 92.75 L351.25 93.12 L350.88 93.50 L349.25 94.38 L349.62 94.75 L350.88 94.75 L351.25 95.12 L339.62 102.50 L322.12 113.00 L305.12 122.75 L294.88 128.25Z" fill-rule="evenodd"/></clipPath>
<line x1="225.30" y1="102.54" x2="294.77" y2="128.08" stroke="#1f9f86" stroke-width="0.7"/>
<line x1="225.30" y1="102.54" x2="221.87" y2="14.19" stroke="#555" stroke-width="0.8"/>
<line x1="223.70" y1="102.54" x2="225.30" y2="102.54" stroke="#555" stroke-width="0.6"/>
<text transform="matrix(0.9375 -0.3480 0.0387 0.9992 223.30 104.54)" font-size="5.6" text-anchor="end" font-weight="normal" fill="#222">0</text>
<line x1="223.04" y1="85.54" x2="224.64" y2="85.54" stroke="#555" stroke-width="0.6"/>
<text transform="matrix(0.9493 -0.3142 0.0387 0.9992 222.64 87.54)" font-size="5.6" text-anchor="end" font-weight="normal" fill="#222">500</text>
<line x1="222.37" y1="68.22" x2="223.97" y2="68.22" stroke="#555" stroke-width="0.6"/>
<text transform="matrix(0.9604 -0.2787 0.0387 0.9992 221.97 70.22)" font-size="5.6" text-anchor="end" font-weight="normal" fill="#222">1000</text>
<line x1="221.68" y1="50.56" x2="223.28" y2="50.56" stroke="#555" stroke-width="0.6"/>
<text transform="matrix(0.9704 -0.2413 0.0387 0.9992 221.28 52.56)" font-size="5.6" text-anchor="end" font-weight="normal" fill="#222">1500</text>
<line x1="220.98" y1="32.55" x2="222.58" y2="32.55" stroke="#555" stroke-width="0.6"/>
<text transform="matrix(0.9793 -0.2022 0.0387 0.9992 220.58 34.55)" font-size="5.6" text-anchor="end" font-weight="normal" fill="#222">2000</text>
<line x1="220.27" y1="14.19" x2="221.87" y2="14.19" stroke="#555" stroke-width="0.6"/>
<text transform="matrix(0.9869 -0.1615 0.0387 0.9992 219.87 16.19)" font-size="5.6" text-anchor="end" font-weight="normal" fill="#222">2500</text>
<text transform="matrix(0.9319 -0.3628 1.0305 0.3849 234.28 107.96)" font-size="5.0" text-anchor="end" font-weight="normal" fill="#222" stroke="#222" stroke-width="0.25">500</text>
<text transform="matrix(0.9255 -0.3787 1.0305 0.3849 245.02 111.97)" font-size="5.0" text-anchor="end" font-weight="normal" fill="#222" stroke="#222" stroke-width="0.25">1000</text>
<text transform="matrix(0.9182 -0.3960 1.0305 0.3849 256.28 116.18)" font-size="5.0" text-anchor="end" font-weight="normal" fill="#222" stroke="#222" stroke-width="0.25">1500</text>
<text transform="matrix(0.9099 -0.4148 1.0305 0.3849 268.11 120.59)" font-size="5.0" text-anchor="end" font-weight="normal" fill="#222" stroke="#222" stroke-width="0.25">2000</text>
<text transform="matrix(0.9004 -0.4351 1.0305 0.3849 280.53 125.23)" font-size="5.0" text-anchor="end" font-weight="normal" fill="#222" stroke="#222" stroke-width="0.25">2500</text>
<text transform="matrix(0.8893 -0.4573 1.0305 0.3849 293.60 130.11)" font-size="5.0" text-anchor="end" font-weight="normal" fill="#222" stroke="#222" stroke-width="0.25">3000</text>
<text transform="matrix(0.9267 0.3757 -0.7969 0.2958 210.08 114.90)" font-size="8.1" text-anchor="start" font-weight="normal" fill="#222" stroke="#222" stroke-width="0.4">Frequency (kHz)</text>
<line x1="294.77" y1="128.08" x2="351.00" y2="99.17" stroke="#555" stroke-width="0.6"/>
<text transform="translate(308.0,125.7) rotate(-28) scale(1,0.8)" font-size="3.2" font-weight="bold" text-anchor="middle" fill="#222">10</text>
<text transform="translate(325.2,116.9) rotate(-28) scale(1,0.8)" font-size="3.2" font-weight="bold" text-anchor="middle" fill="#222">20</text>
<text transform="translate(340.8,108.9) rotate(-28) scale(1,0.8)" font-size="3.2" font-weight="bold" text-anchor="middle" fill="#222">30</text>
<text transform="translate(355.0,101.6) rotate(-28) scale(1,0.8)" font-size="3.2" font-weight="bold" text-anchor="middle" fill="#222">40</text>
<text transform="translate(325.0,125.6) rotate(-27) scale(1,0.75)" font-size="7" font-weight="normal" fill="#222" stroke="#222" stroke-width="0.45">B<tspan font-size="4.6" dy="1.3">m</tspan><tspan dy="-1.3"> (mT)</tspan></text>
<text transform="translate(206.9,86.8) rotate(-90)" font-size="8.2" font-weight="bold" fill="#222" textLength="48.4" lengthAdjust="spacingAndGlyphs">P (kW / m<tspan font-size="5.4" dy="-3.2">3</tspan><tspan dy="3.2">)</tspan></text>
<text x="190.5" y="15.2" font-size="9.8" fill="#222" style="font-family:'DejaVu Sans',sans-serif;font-stretch:normal" stroke="#222" stroke-width="0.25">(b)</text>
<text x="249.5" y="15.4" font-size="7.7" font-weight="bold" fill="#222">None easy-plane FeSi<tspan font-size="5.4" font-weight="normal" fill="#555" dy="1.6">3.5</tspan></text>
<text x="249.5" y="23.2" font-size="7.7" font-weight="bold" fill="#222">composite</text>
<polygon points="236.1,27.2 244.5,27.2 242.1,34.3 233.7,34.3" fill="#00dce1"/>
<text x="249.5" y="33.9" font-size="7.7" fill="#222" stroke="#222" stroke-width="0.18">Hysteresis Loss</text>
<polygon points="236.1,42.6 244.5,42.6 242.1,49.7 233.7,49.7" fill="#a09e64"/>
<text x="249.5" y="49.3" font-size="7.7" fill="#222" stroke="#222" stroke-width="0.18">Eddy Current Loss</text>
<polygon points="236.1,57.8 244.5,57.8 242.1,64.9 233.7,64.9" fill="#ff5af0"/>
<text x="249.5" y="64.5" font-size="7.7" fill="#222" stroke="#222" stroke-width="0.18">Excess Loss</text>
<line x1="414.30" y1="102.54" x2="473.65" y2="80.51" stroke="#cfcfcf" stroke-width="0.6"/>
<line x1="473.65" y1="80.51" x2="540.00" y2="99.17" stroke="#cfcfcf" stroke-width="0.6"/>
<line x1="413.75" y1="88.40" x2="473.59" y2="68.19" stroke="#cfcfcf" stroke-width="0.6"/>
<line x1="473.59" y1="68.19" x2="540.45" y2="85.37" stroke="#cfcfcf" stroke-width="0.6"/>
<line x1="413.19" y1="74.03" x2="473.52" y2="55.70" stroke="#cfcfcf" stroke-width="0.6"/>
<line x1="473.52" y1="55.70" x2="540.90" y2="71.36" stroke="#cfcfcf" stroke-width="0.6"/>
<line x1="412.63" y1="59.44" x2="473.45" y2="43.04" stroke="#cfcfcf" stroke-width="0.6"/>
<line x1="473.45" y1="43.04" x2="541.35" y2="57.12" stroke="#cfcfcf" stroke-width="0.6"/>
<line x1="412.05" y1="44.60" x2="473.39" y2="30.20" stroke="#cfcfcf" stroke-width="0.6"/>
<line x1="473.39" y1="30.20" x2="541.82" y2="42.66" stroke="#cfcfcf" stroke-width="0.6"/>
<line x1="411.47" y1="29.52" x2="473.32" y2="17.19" stroke="#cfcfcf" stroke-width="0.6"/>
<line x1="473.32" y1="17.19" x2="542.29" y2="27.97" stroke="#cfcfcf" stroke-width="0.6"/>
<line x1="410.87" y1="14.19" x2="473.25" y2="3.98" stroke="#cfcfcf" stroke-width="0.6"/>
<line x1="473.25" y1="3.98" x2="542.77" y2="13.04" stroke="#cfcfcf" stroke-width="0.6"/>
<line x1="414.30" y1="102.54" x2="410.87" y2="14.19" stroke="#cfcfcf" stroke-width="0.6"/>
<line x1="423.92" y1="98.97" x2="421.04" y2="12.52" stroke="#cfcfcf" stroke-width="0.6"/>
<line x1="441.92" y1="92.28" x2="440.01" y2="9.42" stroke="#cfcfcf" stroke-width="0.6"/>
<line x1="458.44" y1="86.15" x2="457.35" y2="6.58" stroke="#cfcfcf" stroke-width="0.6"/>
<line x1="473.65" y1="80.51" x2="473.25" y2="3.98" stroke="#cfcfcf" stroke-width="0.6"/>
<line x1="473.65" y1="80.51" x2="473.25" y2="3.98" stroke="#cfcfcf" stroke-width="0.6"/>
<line x1="483.62" y1="83.31" x2="483.65" y2="5.34" stroke="#cfcfcf" stroke-width="0.6"/>
<line x1="493.99" y1="86.23" x2="494.48" y2="6.75" stroke="#cfcfcf" stroke-width="0.6"/>
<line x1="504.79" y1="89.26" x2="505.78" y2="8.22" stroke="#cfcfcf" stroke-width="0.6"/>
<line x1="516.04" y1="92.43" x2="517.57" y2="9.76" stroke="#cfcfcf" stroke-width="0.6"/>
<line x1="527.76" y1="95.72" x2="529.89" y2="11.36" stroke="#cfcfcf" stroke-width="0.6"/>
<line x1="540.00" y1="99.17" x2="542.77" y2="13.04" stroke="#cfcfcf" stroke-width="0.6"/>
<line x1="424.55" y1="106.31" x2="483.62" y2="83.31" stroke="#cfcfcf" stroke-width="0.6"/>
<line x1="435.28" y1="110.25" x2="493.99" y2="86.23" stroke="#cfcfcf" stroke-width="0.6"/>
<line x1="446.53" y1="114.39" x2="504.79" y2="89.26" stroke="#cfcfcf" stroke-width="0.6"/>
<line x1="458.33" y1="118.73" x2="516.04" y2="92.43" stroke="#cfcfcf" stroke-width="0.6"/>
<line x1="470.73" y1="123.29" x2="527.76" y2="95.72" stroke="#cfcfcf" stroke-width="0.6"/>
<line x1="483.77" y1="128.08" x2="540.00" y2="99.17" stroke="#cfcfcf" stroke-width="0.6"/>
<line x1="423.92" y1="98.97" x2="493.05" y2="123.31" stroke="#cfcfcf" stroke-width="0.6"/>
<line x1="441.92" y1="92.28" x2="510.24" y2="114.47" stroke="#cfcfcf" stroke-width="0.6"/>
<line x1="458.44" y1="86.15" x2="525.82" y2="106.46" stroke="#cfcfcf" stroke-width="0.6"/>
<line x1="473.65" y1="80.51" x2="540.00" y2="99.17" stroke="#cfcfcf" stroke-width="0.6"/>
<path d="M483.88 128.25 L479.88 126.75 L479.38 126.75 L478.62 126.25 L477.38 126.00 L476.62 125.50 L474.62 125.00 L473.88 124.50 L471.88 124.00 L469.12 122.75 L467.12 122.25 L464.38 121.00 L462.38 120.50 L461.62 120.00 L460.38 119.75 L457.62 118.50 L455.62 118.00 L454.88 117.50 L452.88 117.00 L452.12 116.50 L450.12 116.00 L447.38 114.75 L445.38 114.25 L442.62 113.00 L440.62 112.50 L437.88 111.25 L435.88 110.75 L435.12 110.25 L434.62 110.25 L433.62 109.75 L433.12 109.75 L432.38 109.25 L431.12 109.00 L428.38 107.75 L427.88 107.75 L427.62 107.50 L426.38 107.25 L425.62 106.75 L423.62 106.25 L420.88 105.00 L418.88 104.50 L418.12 104.00 L414.88 103.00 L414.38 102.75 L414.25 102.38 L415.62 102.00 L416.38 101.50 L417.62 101.25 L418.38 100.75 L419.62 100.50 L420.38 100.00 L422.38 99.50 L423.12 99.00 L424.38 98.75 L425.12 98.25 L426.38 98.00 L427.12 97.50 L428.38 97.25 L429.12 96.75 L433.12 95.50 L433.88 95.00 L435.12 94.75 L435.88 94.25 L437.12 94.00 L437.88 93.50 L439.12 93.25 L439.88 92.75 L440.38 92.75 L441.38 92.25 L441.88 92.25 L442.62 91.75 L444.62 91.25 L446.62 90.25 L448.62 89.75 L449.38 89.25 L450.62 89.00 L451.38 88.50 L454.62 87.50 L455.38 87.00 L457.38 86.50 L458.12 86.00 L459.38 85.75 L462.12 84.50 L464.12 84.00 L464.88 83.50 L466.12 83.25 L466.88 82.75 L467.38 82.75 L468.88 82.00 L470.12 81.75 L470.88 81.25 L472.12 81.00 L472.88 80.50 L474.62 80.50 L475.62 81.00 L476.38 81.00 L477.38 81.50 L478.12 81.50 L479.12 82.00 L480.88 82.25 L482.88 83.00 L483.62 83.00 L484.62 83.50 L486.38 83.75 L487.38 84.25 L490.12 84.75 L491.12 85.25 L492.88 85.50 L493.88 86.00 L494.62 86.00 L495.88 86.50 L498.62 87.00 L499.62 87.50 L500.38 87.50 L500.62 87.75 L501.38 87.75 L502.62 88.25 L504.38 88.50 L505.38 89.00 L506.12 89.00 L506.38 89.25 L507.12 89.25 L507.38 89.50 L511.12 90.25 L511.38 90.50 L512.12 90.50 L513.38 91.00 L515.12 91.25 L515.38 91.50 L518.12 92.00 L518.38 92.25 L519.12 92.25 L519.25 92.38 L517.25 96.38 L516.75 96.88 L516.00 98.62 L515.50 99.12 L513.75 102.38 L511.75 105.38 L511.00 106.12 L510.50 107.12 L507.75 110.38 L507.75 110.62 L506.25 112.12 L506.25 112.38 L501.88 116.75 L501.62 116.75 L500.12 118.25 L499.88 118.25 L496.88 120.75 L493.88 122.75 L493.12 123.00 L491.88 124.00 L483.88 128.25Z" fill="#da50e8" stroke="#da50e8" stroke-width="0.25" fill-rule="evenodd"/>
<path d="M486.62 81.75 L480.62 81.75 L480.38 81.50 L478.38 81.50 L478.12 81.25 L477.12 81.25 L476.88 81.00 L475.88 81.00 L475.62 80.75 L473.50 80.38 L477.12 78.50 L482.12 75.00 L487.12 70.75 L487.38 70.75 L488.88 69.25 L489.12 69.25 L496.38 62.50 L496.62 62.50 L501.38 57.75 L501.62 57.75 L515.75 43.62 L515.88 43.25 L516.50 42.88 L516.50 42.62 L522.25 36.88 L522.25 36.62 L526.00 32.88 L526.00 32.62 L527.00 31.88 L527.00 31.62 L530.00 28.62 L530.00 28.38 L530.50 28.12 L530.50 27.88 L532.75 25.62 L532.75 25.38 L533.25 25.12 L533.25 24.88 L542.62 14.75 L542.75 15.88 L542.50 16.12 L542.25 17.88 L542.00 18.12 L541.50 21.62 L541.00 22.62 L541.00 23.62 L540.50 24.88 L540.50 25.88 L540.25 26.12 L540.00 27.88 L539.75 28.12 L539.75 29.12 L539.50 29.38 L539.50 30.12 L539.00 31.38 L539.00 32.38 L538.25 34.38 L538.00 36.38 L537.75 36.62 L537.75 37.38 L537.25 38.62 L536.75 41.38 L536.25 42.38 L536.25 43.12 L536.00 43.38 L535.50 46.12 L535.00 47.38 L535.00 48.12 L534.00 50.88 L529.00 56.12 L529.00 56.38 L523.38 62.00 L523.12 62.00 L522.62 62.75 L522.38 62.75 L520.38 64.75 L520.12 64.75 L515.62 68.75 L508.62 73.75 L500.12 78.25 L499.62 78.25 L497.62 79.25 L495.62 79.75 L495.38 80.00 L494.62 80.00 L493.62 80.50 L491.88 80.75 L491.62 81.00 L489.12 81.25 L488.88 81.50 L486.88 81.50 L486.62 81.75Z" fill="#ff50f0" stroke="#ff50f0" stroke-width="0.25" fill-rule="evenodd"/>
<path d="M534.12 50.75 L534.12 50.50 L534.12 50.75ZM519.12 92.25 L518.38 92.25 L517.12 91.75 L516.38 91.75 L515.12 91.25 L513.38 91.00 L513.12 90.75 L510.38 90.25 L510.12 90.00 L506.38 89.25 L506.12 89.00 L505.38 89.00 L504.38 88.50 L503.62 88.50 L503.38 88.25 L502.62 88.25 L501.38 87.75 L499.62 87.50 L498.62 87.00 L497.88 87.00 L497.62 86.75 L494.88 86.25 L494.62 86.00 L493.88 86.00 L492.88 85.50 L491.12 85.25 L490.12 84.75 L487.38 84.25 L486.38 83.75 L484.62 83.50 L483.62 83.00 L481.88 82.75 L480.88 82.25 L480.12 82.25 L479.88 82.00 L479.12 82.00 L478.25 81.62 L480.38 81.50 L480.62 81.75 L486.62 81.75 L486.88 81.50 L488.88 81.50 L489.12 81.25 L491.62 81.00 L491.88 80.75 L493.62 80.50 L494.62 80.00 L495.38 80.00 L495.62 79.75 L497.62 79.25 L498.38 78.75 L500.12 78.25 L505.62 75.50 L506.12 75.00 L507.38 74.50 L507.88 74.00 L508.62 73.75 L510.88 72.25 L511.62 71.50 L512.62 71.00 L513.38 70.25 L515.62 68.75 L518.12 66.50 L518.38 66.50 L522.38 62.75 L522.62 62.75 L522.75 62.38 L523.38 62.00 L529.00 56.38 L529.00 56.12 L533.88 51.00 L534.00 51.62 L533.50 52.62 L533.50 53.38 L533.00 54.38 L532.50 56.88 L531.75 58.62 L531.75 59.38 L531.00 61.12 L531.00 61.88 L530.50 62.88 L530.25 64.12 L529.75 65.12 L529.75 65.88 L529.25 66.62 L527.00 73.88 L526.50 74.62 L526.25 75.88 L525.75 76.62 L525.50 77.88 L525.00 78.62 L524.75 79.88 L524.00 81.12 L524.00 81.62 L523.50 82.38 L523.50 82.88 L523.00 83.62 L522.50 85.38 L521.50 87.12 L521.50 87.62 L520.50 89.38 L520.50 89.88 L520.00 90.38 L520.00 90.88 L519.12 92.25ZM475.62 81.00 L475.62 80.75 L475.62 81.00ZM476.88 81.25 L476.50 81.12 L476.88 81.00 L476.88 81.25ZM478.12 81.50 L477.25 81.38 L478.12 81.25 L478.12 81.50Z" fill="#c55bf8" stroke="#c55bf8" stroke-width="0.25" fill-rule="evenodd"/>
<path d="M505.38 117.00 L505.00 116.88 L508.25 113.88 L508.25 113.62 L510.75 110.88 L511.25 109.88 L513.25 107.38 L514.50 105.12 L515.25 104.38 L515.75 103.12 L516.75 101.88 L517.25 100.62 L518.75 98.38 L520.50 94.62 L521.62 93.00 L524.12 93.50 L524.38 93.75 L526.38 94.00 L526.62 94.25 L528.38 94.50 L528.62 94.75 L529.38 94.75 L529.62 95.00 L531.38 95.25 L531.62 95.50 L532.62 95.50 L533.88 96.00 L536.62 96.50 L536.88 96.75 L537.88 96.75 L539.12 97.25 L539.88 97.25 L540.25 97.62 L537.62 99.00 L537.12 99.50 L535.88 100.00 L535.38 100.50 L534.12 101.00 L533.62 101.50 L531.88 102.25 L530.12 103.50 L528.38 104.25 L527.88 104.75 L526.12 105.50 L525.62 106.00 L523.88 106.75 L523.38 107.25 L521.62 108.00 L521.12 108.50 L518.88 109.50 L518.38 110.00 L516.62 110.75 L516.12 111.25 L513.38 112.50 L512.88 113.00 L511.12 113.75 L510.62 114.25 L507.38 115.75 L506.88 116.25 L505.38 117.00ZM504.88 117.25 L504.88 117.00 L504.88 117.25Z" fill="#a5a85a" stroke="#a5a85a" stroke-width="0.25" fill-rule="evenodd"/>
<path d="M521.38 93.00 L520.12 92.50 L519.38 92.50 L519.25 92.12 L520.00 90.88 L520.00 90.38 L520.50 89.88 L520.50 89.38 L522.50 85.38 L522.50 84.88 L523.00 84.12 L523.00 83.62 L523.50 82.88 L524.00 81.12 L524.75 79.88 L525.00 78.62 L525.50 77.88 L525.75 76.62 L526.25 75.88 L526.50 74.62 L527.00 73.88 L527.25 72.62 L527.50 72.38 L528.50 68.88 L529.25 67.12 L529.25 66.62 L529.75 65.88 L529.75 65.12 L531.00 61.88 L531.00 61.12 L531.75 59.38 L531.75 58.62 L532.00 58.38 L532.25 57.12 L532.50 56.88 L532.50 56.12 L533.00 55.12 L533.00 54.38 L533.50 53.38 L534.00 50.88 L538.75 45.12 L538.75 44.88 L540.00 43.62 L540.75 42.38 L541.88 41.25 L542.00 41.62 L541.75 41.88 L540.00 47.62 L539.50 48.38 L538.00 53.38 L537.50 54.12 L536.75 56.88 L536.25 57.62 L536.25 58.12 L535.75 59.12 L535.75 59.62 L534.75 61.62 L534.50 62.88 L534.00 63.62 L533.50 65.62 L533.00 66.38 L533.00 66.88 L532.50 67.62 L532.50 68.12 L532.00 68.88 L532.00 69.38 L530.50 72.62 L530.50 73.12 L529.75 74.38 L529.00 76.88 L527.50 79.88 L527.50 80.38 L526.50 82.12 L526.50 82.62 L525.50 84.38 L525.50 84.88 L522.75 90.12 L522.75 90.62 L521.38 93.00ZM503.62 118.00 L503.62 117.75 L503.62 118.00ZM503.38 118.25 L503.38 118.00 L503.38 118.25ZM502.88 118.50 L502.88 118.25 L502.88 118.50ZM502.38 118.75 L502.38 118.50 L502.38 118.75ZM501.88 119.00 L501.88 118.75 L501.88 119.00ZM501.38 119.25 L501.38 119.00 L501.38 119.25ZM500.88 119.50 L500.88 119.25 L500.88 119.50ZM500.38 119.75 L500.38 119.50 L500.38 119.75ZM499.88 120.00 L499.88 119.75 L499.88 120.00ZM497.62 121.25 L497.62 121.00 L497.62 121.25ZM497.12 121.50 L497.12 121.25 L497.12 121.50ZM496.62 121.75 L496.62 121.50 L496.62 121.75ZM496.12 122.00 L496.12 121.75 L496.12 122.00ZM495.62 122.25 L495.62 122.00 L495.62 122.25ZM495.12 122.50 L495.12 122.25 L495.12 122.50ZM494.62 122.75 L494.62 122.50 L494.62 122.75ZM489.38 125.50 L489.38 125.25 L489.38 125.50Z" fill="#00e3e0" stroke="#00e3e0" stroke-width="0.25" fill-rule="evenodd"/>
<path d="M493.12 123.50 L492.75 123.38 L493.12 123.00 L493.88 122.75 L496.88 120.75 L499.88 118.25 L500.12 118.25 L506.25 112.38 L506.25 112.12 L509.00 109.12 L513.75 102.38 L514.00 101.62 L516.00 98.62 L516.75 96.88 L517.25 96.38 L519.00 92.62 L520.12 92.50 L520.38 92.75 L521.12 92.75 L521.50 93.12 L521.00 94.12 L520.50 94.62 L518.75 98.38 L517.25 100.62 L516.75 101.88 L515.75 103.12 L515.25 104.38 L514.50 105.12 L514.25 105.88 L512.50 108.12 L512.00 109.12 L511.25 109.88 L510.75 110.88 L509.50 112.12 L508.25 113.88 L504.38 117.50 L499.88 119.75 L499.38 120.25 L494.62 122.50 L493.12 123.50ZM492.62 123.75 L492.25 123.62 L492.62 123.50 L492.62 123.75ZM492.12 124.00 L492.12 123.75 L492.12 124.00ZM491.62 124.25 L491.62 124.00 L491.62 124.25ZM491.12 124.50 L491.12 124.25 L491.12 124.50ZM490.62 124.75 L490.62 124.50 L490.62 124.75ZM488.38 126.00 L488.38 125.75 L488.38 126.00ZM487.88 126.25 L487.88 126.00 L487.88 126.25Z" fill="#00d2b4" stroke="#00d2b4" stroke-width="0.25" fill-rule="evenodd"/>
<clipPath id="su2"><path d="M483.88 128.25 L471.88 124.00 L469.12 122.75 L467.12 122.25 L464.38 121.00 L462.38 120.50 L457.62 118.50 L455.62 118.00 L454.88 117.50 L452.88 117.00 L452.12 116.50 L450.12 116.00 L447.38 114.75 L445.38 114.25 L442.62 113.00 L440.62 112.50 L437.88 111.25 L433.12 109.75 L428.38 107.75 L423.62 106.25 L420.88 105.00 L418.88 104.50 L418.12 104.00 L414.88 103.00 L414.25 102.38 L472.12 81.00 L475.88 79.25 L480.12 76.50 L489.12 69.25 L501.62 57.75 L522.25 36.88 L542.62 14.75 L542.75 15.88 L542.00 18.12 L541.50 21.62 L541.00 22.62 L540.50 25.88 L539.00 31.38 L539.00 32.38 L538.25 34.38 L538.00 36.38 L536.25 42.38 L535.00 48.12 L534.25 49.88 L534.38 50.25 L540.00 43.62 L540.75 42.38 L541.88 41.25 L542.00 41.62 L533.50 65.62 L527.50 80.38 L521.50 92.88 L531.62 95.50 L532.62 95.50 L536.88 96.75 L539.88 97.25 L540.25 97.62 L521.12 108.50 L504.12 117.50 L503.38 118.25 L483.88 128.25Z" fill-rule="evenodd"/></clipPath>
<line x1="414.30" y1="102.54" x2="483.77" y2="128.08" stroke="#1f9f86" stroke-width="0.7"/>
<line x1="414.30" y1="102.54" x2="410.87" y2="14.19" stroke="#555" stroke-width="0.8"/>
<line x1="412.70" y1="102.54" x2="414.30" y2="102.54" stroke="#555" stroke-width="0.6"/>
<text transform="matrix(0.9375 -0.3480 0.0387 0.9992 412.30 104.54)" font-size="5.6" text-anchor="end" font-weight="normal" fill="#222">0</text>
<line x1="412.15" y1="88.40" x2="413.75" y2="88.40" stroke="#555" stroke-width="0.6"/>
<text transform="matrix(0.9474 -0.3200 0.0387 0.9992 411.75 90.40)" font-size="5.6" text-anchor="end" font-weight="normal" fill="#222">50</text>
<line x1="411.59" y1="74.03" x2="413.19" y2="74.03" stroke="#555" stroke-width="0.6"/>
<text transform="matrix(0.9568 -0.2907 0.0387 0.9992 411.19 76.03)" font-size="5.6" text-anchor="end" font-weight="normal" fill="#222">100</text>
<line x1="411.03" y1="59.44" x2="412.63" y2="59.44" stroke="#555" stroke-width="0.6"/>
<text transform="matrix(0.9655 -0.2602 0.0387 0.9992 410.63 61.44)" font-size="5.6" text-anchor="end" font-weight="normal" fill="#222">150</text>
<line x1="410.45" y1="44.60" x2="412.05" y2="44.60" stroke="#555" stroke-width="0.6"/>
<text transform="matrix(0.9735 -0.2285 0.0387 0.9992 410.05 46.60)" font-size="5.6" text-anchor="end" font-weight="normal" fill="#222">200</text>
<line x1="409.87" y1="29.52" x2="411.47" y2="29.52" stroke="#555" stroke-width="0.6"/>
<text transform="matrix(0.9807 -0.1955 0.0387 0.9992 409.47 31.52)" font-size="5.6" text-anchor="end" font-weight="normal" fill="#222">250</text>
<line x1="409.27" y1="14.19" x2="410.87" y2="14.19" stroke="#555" stroke-width="0.6"/>
<text transform="matrix(0.9869 -0.1615 0.0387 0.9992 408.87 16.19)" font-size="5.6" text-anchor="end" font-weight="normal" fill="#222">300</text>
<text transform="matrix(0.9319 -0.3628 1.0305 0.3849 423.28 107.96)" font-size="5.0" text-anchor="end" font-weight="normal" fill="#222" stroke="#222" stroke-width="0.25">500</text>
<text transform="matrix(0.9255 -0.3787 1.0305 0.3849 434.02 111.97)" font-size="5.0" text-anchor="end" font-weight="normal" fill="#222" stroke="#222" stroke-width="0.25">1000</text>
<text transform="matrix(0.9182 -0.3960 1.0305 0.3849 445.28 116.18)" font-size="5.0" text-anchor="end" font-weight="normal" fill="#222" stroke="#222" stroke-width="0.25">1500</text>
<text transform="matrix(0.9099 -0.4148 1.0305 0.3849 457.11 120.59)" font-size="5.0" text-anchor="end" font-weight="normal" fill="#222" stroke="#222" stroke-width="0.25">2000</text>
<text transform="matrix(0.9004 -0.4351 1.0305 0.3849 469.53 125.23)" font-size="5.0" text-anchor="end" font-weight="normal" fill="#222" stroke="#222" stroke-width="0.25">2500</text>
<text transform="matrix(0.8893 -0.4573 1.0305 0.3849 482.60 130.11)" font-size="5.0" text-anchor="end" font-weight="normal" fill="#222" stroke="#222" stroke-width="0.25">3000</text>
<text transform="matrix(0.9267 0.3757 -0.7969 0.2958 399.08 114.90)" font-size="8.1" text-anchor="start" font-weight="normal" fill="#222" stroke="#222" stroke-width="0.4">Frequency (kHz)</text>
<line x1="483.77" y1="128.08" x2="540.00" y2="99.17" stroke="#555" stroke-width="0.6"/>
<text transform="translate(497.0,125.7) rotate(-28) scale(1,0.8)" font-size="3.2" font-weight="bold" text-anchor="middle" fill="#222">10</text>
<text transform="translate(514.2,116.9) rotate(-28) scale(1,0.8)" font-size="3.2" font-weight="bold" text-anchor="middle" fill="#222">20</text>
<text transform="translate(529.8,108.9) rotate(-28) scale(1,0.8)" font-size="3.2" font-weight="bold" text-anchor="middle" fill="#222">30</text>
<text transform="translate(544.0,101.6) rotate(-28) scale(1,0.8)" font-size="3.2" font-weight="bold" text-anchor="middle" fill="#222">40</text>
<text transform="translate(514.0,125.6) rotate(-27) scale(1,0.75)" font-size="7" font-weight="normal" fill="#222" stroke="#222" stroke-width="0.45">B<tspan font-size="4.6" dy="1.3">m</tspan><tspan dy="-1.3"> (mT)</tspan></text>
<text transform="translate(399.4,87.8) rotate(-90)" font-size="8.2" font-weight="bold" fill="#222" textLength="48.3" lengthAdjust="spacingAndGlyphs">P (kW / m<tspan font-size="5.4" dy="-3.2">3</tspan><tspan dy="3.2">)</tspan></text>
<text x="383.7" y="15.4" font-size="9.8" fill="#222" style="font-family:'DejaVu Sans',sans-serif;font-stretch:normal" stroke="#222" stroke-width="0.25">(c)</text>
<text x="438.5" y="15.1" font-size="7.7" font-weight="bold" fill="#222">Easy-plane FeSi<tspan font-size="5.4" font-weight="normal" fill="#555" dy="1.6">3.5</tspan></text>
<text x="438.5" y="22.9" font-size="7.7" font-weight="bold" fill="#222">composite</text>
<polygon points="425.1,27.0 433.5,27.0 431.1,34.1 422.7,34.1" fill="#00dce1"/>
<text x="438.5" y="33.7" font-size="7.7" fill="#222" stroke="#222" stroke-width="0.18">Hysteresis Loss</text>
<polygon points="425.1,42.0 433.5,42.0 431.1,49.1 422.7,49.1" fill="#a09e64"/>
<text x="438.5" y="48.7" font-size="7.7" fill="#222" stroke="#222" stroke-width="0.18">Eddy Current Loss</text>
<polygon points="425.1,57.3 433.5,57.3 431.1,64.4 422.7,64.4" fill="#ff5af0"/>
<text x="438.5" y="64.0" font-size="7.7" fill="#222" stroke="#222" stroke-width="0.18">Excess Loss</text>
<line x1="36.30" y1="252.04" x2="95.65" y2="230.01" stroke="#cfcfcf" stroke-width="0.6"/>
<line x1="95.65" y1="230.01" x2="162.00" y2="248.67" stroke="#cfcfcf" stroke-width="0.6"/>
<line x1="35.75" y1="237.90" x2="95.59" y2="217.69" stroke="#cfcfcf" stroke-width="0.6"/>
<line x1="95.59" y1="217.69" x2="162.45" y2="234.87" stroke="#cfcfcf" stroke-width="0.6"/>
<line x1="35.19" y1="223.53" x2="95.52" y2="205.20" stroke="#cfcfcf" stroke-width="0.6"/>
<line x1="95.52" y1="205.20" x2="162.90" y2="220.86" stroke="#cfcfcf" stroke-width="0.6"/>
<line x1="34.63" y1="208.94" x2="95.45" y2="192.54" stroke="#cfcfcf" stroke-width="0.6"/>
<line x1="95.45" y1="192.54" x2="163.35" y2="206.62" stroke="#cfcfcf" stroke-width="0.6"/>
<line x1="34.05" y1="194.10" x2="95.39" y2="179.70" stroke="#cfcfcf" stroke-width="0.6"/>
<line x1="95.39" y1="179.70" x2="163.82" y2="192.16" stroke="#cfcfcf" stroke-width="0.6"/>
<line x1="33.47" y1="179.02" x2="95.32" y2="166.69" stroke="#cfcfcf" stroke-width="0.6"/>
<line x1="95.32" y1="166.69" x2="164.29" y2="177.47" stroke="#cfcfcf" stroke-width="0.6"/>
<line x1="32.87" y1="163.69" x2="95.25" y2="153.48" stroke="#cfcfcf" stroke-width="0.6"/>
<line x1="95.25" y1="153.48" x2="164.77" y2="162.54" stroke="#cfcfcf" stroke-width="0.6"/>
<line x1="36.30" y1="252.04" x2="32.87" y2="163.69" stroke="#cfcfcf" stroke-width="0.6"/>
<line x1="45.92" y1="248.47" x2="43.04" y2="162.02" stroke="#cfcfcf" stroke-width="0.6"/>
<line x1="63.92" y1="241.78" x2="62.01" y2="158.92" stroke="#cfcfcf" stroke-width="0.6"/>
<line x1="80.44" y1="235.65" x2="79.35" y2="156.08" stroke="#cfcfcf" stroke-width="0.6"/>
<line x1="95.65" y1="230.01" x2="95.25" y2="153.48" stroke="#cfcfcf" stroke-width="0.6"/>
<line x1="95.65" y1="230.01" x2="95.25" y2="153.48" stroke="#cfcfcf" stroke-width="0.6"/>
<line x1="105.62" y1="232.81" x2="105.65" y2="154.84" stroke="#cfcfcf" stroke-width="0.6"/>
<line x1="115.99" y1="235.73" x2="116.48" y2="156.25" stroke="#cfcfcf" stroke-width="0.6"/>
<line x1="126.79" y1="238.76" x2="127.78" y2="157.72" stroke="#cfcfcf" stroke-width="0.6"/>
<line x1="138.04" y1="241.93" x2="139.57" y2="159.26" stroke="#cfcfcf" stroke-width="0.6"/>
<line x1="149.76" y1="245.22" x2="151.89" y2="160.86" stroke="#cfcfcf" stroke-width="0.6"/>
<line x1="162.00" y1="248.67" x2="164.77" y2="162.54" stroke="#cfcfcf" stroke-width="0.6"/>
<line x1="46.55" y1="255.81" x2="105.62" y2="232.81" stroke="#cfcfcf" stroke-width="0.6"/>
<line x1="57.28" y1="259.75" x2="115.99" y2="235.73" stroke="#cfcfcf" stroke-width="0.6"/>
<line x1="68.53" y1="263.89" x2="126.79" y2="238.76" stroke="#cfcfcf" stroke-width="0.6"/>
<line x1="80.33" y1="268.23" x2="138.04" y2="241.93" stroke="#cfcfcf" stroke-width="0.6"/>
<line x1="92.73" y1="272.79" x2="149.76" y2="245.22" stroke="#cfcfcf" stroke-width="0.6"/>
<line x1="105.77" y1="277.58" x2="162.00" y2="248.67" stroke="#cfcfcf" stroke-width="0.6"/>
<line x1="45.92" y1="248.47" x2="115.05" y2="272.81" stroke="#cfcfcf" stroke-width="0.6"/>
<line x1="63.92" y1="241.78" x2="132.24" y2="263.97" stroke="#cfcfcf" stroke-width="0.6"/>
<line x1="80.44" y1="235.65" x2="147.82" y2="255.96" stroke="#cfcfcf" stroke-width="0.6"/>
<line x1="95.65" y1="230.01" x2="162.00" y2="248.67" stroke="#cfcfcf" stroke-width="0.6"/>
<path d="M122.88 265.75 L122.38 265.25 L121.62 265.25 L120.62 264.75 L119.12 264.50 L118.12 264.00 L117.38 264.00 L115.62 263.25 L114.88 263.25 L112.12 262.25 L111.38 262.25 L110.62 261.75 L109.88 261.75 L109.62 261.50 L108.12 261.25 L106.38 260.50 L105.62 260.50 L104.62 260.00 L102.12 259.50 L98.88 258.25 L98.12 258.25 L97.12 257.75 L94.62 257.25 L92.12 256.25 L91.38 256.25 L89.62 255.50 L87.12 255.00 L86.88 254.75 L86.38 254.75 L85.38 254.25 L84.62 254.25 L82.12 253.25 L81.38 253.25 L78.88 252.25 L78.12 252.25 L74.88 251.00 L74.12 251.00 L69.38 249.25 L68.62 249.25 L67.88 248.75 L65.88 248.25 L65.12 247.75 L64.62 247.75 L61.38 246.25 L60.25 245.38 L60.00 244.62 L61.38 243.25 L64.12 241.75 L65.38 241.50 L67.12 240.50 L70.38 239.50 L71.62 238.75 L72.88 238.50 L74.88 237.50 L76.12 237.25 L76.88 236.75 L78.12 236.50 L78.88 236.00 L80.12 235.75 L80.88 235.25 L82.12 235.00 L82.88 234.50 L83.38 234.50 L84.88 233.75 L86.12 233.50 L86.88 233.00 L88.12 232.75 L88.88 232.25 L90.62 231.75 L91.88 231.00 L92.38 231.00 L97.88 228.25 L98.38 227.75 L101.62 226.00 L105.12 223.50 L105.88 223.25 L116.62 216.00 L117.38 215.75 L118.88 214.50 L119.62 214.25 L124.62 210.75 L125.38 210.50 L131.88 206.00 L132.62 205.75 L136.88 202.75 L137.62 202.50 L141.88 199.50 L142.62 199.25 L143.38 198.50 L144.88 197.75 L158.38 188.75 L158.50 189.38 L158.25 189.62 L158.00 191.38 L157.50 192.38 L157.50 193.12 L157.00 193.88 L157.00 194.62 L156.50 195.62 L156.00 198.12 L155.25 199.88 L155.25 200.62 L154.25 203.12 L154.25 203.88 L153.75 204.62 L153.50 205.88 L153.25 206.12 L153.25 206.88 L153.00 207.12 L151.25 212.88 L150.75 213.62 L149.75 217.12 L149.25 217.88 L149.00 219.12 L147.75 221.88 L147.50 223.12 L147.00 223.88 L146.75 225.12 L146.00 226.38 L146.00 226.88 L145.00 228.88 L144.50 230.62 L143.75 231.88 L143.75 232.38 L143.00 233.62 L143.00 234.12 L137.50 245.38 L137.00 245.88 L136.50 247.12 L136.00 247.62 L134.00 251.38 L133.00 252.62 L132.75 253.38 L131.50 254.88 L131.25 255.62 L130.50 256.38 L128.50 259.38 L122.88 265.75Z" fill="#04b105" stroke="#04b105" stroke-width="0.25" fill-rule="evenodd"/>
<path d="M84.12 234.25 L84.12 234.00 L84.12 234.25ZM82.12 235.00 L82.12 234.75 L82.12 235.00ZM80.12 235.75 L80.12 235.50 L80.12 235.75ZM78.12 236.50 L78.12 236.25 L78.12 236.50ZM77.38 236.75 L77.38 236.50 L77.38 236.75ZM76.12 237.25 L76.12 237.00 L76.12 237.25ZM75.38 237.50 L75.38 237.25 L75.38 237.50ZM74.12 238.00 L74.12 237.75 L74.12 238.00ZM73.38 238.25 L73.38 238.00 L73.38 238.25ZM72.88 238.50 L72.88 238.25 L72.88 238.50ZM72.12 238.75 L72.12 238.50 L72.12 238.75ZM71.38 239.00 L71.38 238.75 L71.38 239.00ZM70.88 239.25 L70.88 239.00 L70.88 239.25ZM70.38 239.50 L70.00 239.38 L70.38 239.25 L70.38 239.50ZM69.62 239.75 L69.25 239.62 L69.62 239.50 L69.62 239.75ZM68.88 240.00 L68.50 239.88 L68.88 239.75 L68.88 240.00ZM68.38 240.25 L68.00 240.12 L68.38 240.00 L68.38 240.25ZM67.62 240.50 L67.25 240.38 L67.62 240.25 L67.62 240.50ZM66.88 240.75 L66.88 240.50 L66.88 240.75ZM66.38 241.00 L66.00 240.88 L66.38 240.75 L66.38 241.00ZM64.62 241.75 L64.00 241.62 L65.38 241.00 L66.00 241.12 L64.62 241.75ZM105.88 277.75 L101.88 276.25 L101.38 276.25 L100.62 275.75 L99.38 275.50 L98.62 275.00 L96.62 274.50 L95.88 274.00 L93.88 273.50 L91.12 272.25 L89.12 271.75 L86.38 270.50 L84.38 270.00 L83.62 269.50 L82.38 269.25 L79.62 268.00 L77.62 267.50 L76.88 267.00 L74.88 266.50 L74.12 266.00 L72.12 265.50 L69.38 264.25 L67.38 263.75 L64.62 262.50 L62.62 262.00 L59.88 260.75 L57.88 260.25 L57.12 259.75 L56.62 259.75 L55.62 259.25 L55.12 259.25 L54.38 258.75 L53.12 258.50 L50.38 257.25 L49.88 257.25 L49.62 257.00 L48.38 256.75 L47.62 256.25 L45.62 255.75 L42.88 254.50 L40.88 254.00 L40.12 253.50 L36.88 252.50 L36.38 252.25 L36.25 251.88 L37.62 251.50 L38.38 251.00 L39.62 250.75 L40.38 250.25 L41.62 250.00 L42.38 249.50 L44.38 249.00 L45.12 248.50 L46.38 248.25 L47.12 247.75 L48.38 247.50 L49.12 247.00 L50.38 246.75 L51.12 246.25 L55.12 245.00 L55.88 244.50 L57.12 244.25 L57.88 243.75 L59.12 243.50 L59.88 243.00 L61.12 242.75 L61.88 242.25 L63.88 241.75 L63.88 242.00 L61.38 243.25 L60.00 244.62 L60.62 245.75 L63.38 247.25 L63.88 247.25 L65.88 248.25 L67.88 248.75 L68.62 249.25 L69.38 249.25 L69.62 249.50 L70.88 249.75 L74.12 251.00 L74.88 251.00 L78.12 252.25 L78.88 252.25 L79.12 252.50 L79.62 252.50 L81.38 253.25 L82.12 253.25 L84.62 254.25 L85.38 254.25 L87.12 255.00 L89.62 255.50 L91.38 256.25 L92.12 256.25 L94.62 257.25 L95.38 257.25 L98.12 258.25 L98.88 258.25 L102.12 259.50 L102.88 259.50 L103.12 259.75 L104.62 260.00 L105.62 260.50 L106.38 260.50 L108.12 261.25 L110.62 261.75 L111.38 262.25 L112.12 262.25 L112.38 262.50 L113.88 262.75 L114.88 263.25 L115.62 263.25 L117.38 264.00 L119.88 264.50 L121.62 265.25 L122.38 265.25 L122.75 265.62 L122.75 265.88 L121.88 266.50 L121.62 267.00 L121.38 267.00 L118.12 270.00 L115.12 272.25 L110.12 275.50 L108.38 276.25 L107.88 276.75 L105.88 277.75Z" fill="#c9600f" stroke="#c9600f" stroke-width="0.25" fill-rule="evenodd"/>
<path d="M89.38 232.25 L88.75 232.12 L92.62 230.25 L93.12 229.75 L95.12 228.75 L97.38 227.25 L98.12 226.50 L99.12 226.00 L102.88 222.75 L103.12 222.75 L113.62 212.75 L113.88 212.75 L114.12 212.25 L114.38 212.25 L117.88 208.75 L118.12 208.75 L122.38 204.50 L122.62 204.50 L126.88 200.25 L127.12 200.25 L130.38 197.00 L130.62 197.00 L139.38 188.50 L139.62 188.50 L143.88 184.25 L144.12 184.25 L147.62 180.75 L147.88 180.75 L148.38 180.00 L148.62 180.00 L151.88 176.75 L152.12 176.75 L152.62 176.00 L152.88 176.00 L160.62 168.50 L160.88 168.50 L161.12 168.00 L161.38 168.00 L164.62 164.75 L164.75 164.88 L164.25 167.62 L164.00 167.88 L164.00 168.62 L163.50 169.88 L163.25 171.88 L162.75 172.88 L162.75 173.62 L162.25 174.88 L161.75 177.62 L161.25 178.62 L160.50 182.38 L159.75 184.12 L159.75 184.88 L159.50 185.12 L159.50 185.88 L159.25 186.12 L159.25 186.88 L159.00 187.12 L158.62 188.75 L157.88 189.00 L156.38 190.25 L155.62 190.50 L152.88 192.50 L152.12 192.75 L144.88 197.75 L143.38 198.50 L142.62 199.25 L141.88 199.50 L137.62 202.50 L136.88 202.75 L132.62 205.75 L131.88 206.00 L125.38 210.50 L124.62 210.75 L119.62 214.25 L118.88 214.50 L118.12 215.25 L116.62 216.00 L112.38 219.00 L111.62 219.25 L101.62 226.00 L100.88 226.25 L97.88 228.25 L89.38 232.25ZM88.62 232.50 L88.25 232.38 L88.62 232.25 L88.62 232.50ZM88.12 232.75 L87.75 232.62 L88.12 232.50 L88.12 232.75ZM87.38 233.00 L87.38 232.75 L87.38 233.00ZM86.62 233.25 L86.62 233.00 L86.62 233.25ZM86.12 233.50 L86.12 233.25 L86.12 233.50ZM121.88 266.75 L121.88 266.50 L121.88 266.75ZM121.38 267.25 L121.38 267.00 L121.38 267.25ZM121.12 267.50 L121.12 267.25 L121.12 267.50ZM119.62 268.75 L119.62 268.50 L119.62 268.75ZM119.38 269.00 L119.38 268.75 L119.38 269.00ZM119.12 269.25 L119.12 269.00 L119.12 269.25ZM118.88 269.50 L118.88 269.25 L118.88 269.50ZM117.88 270.25 L117.88 270.00 L117.88 270.25ZM117.62 270.50 L117.62 270.25 L117.62 270.50ZM116.88 271.00 L116.88 270.75 L116.88 271.00ZM116.62 271.25 L116.62 271.00 L116.62 271.25ZM115.88 271.75 L115.88 271.50 L115.88 271.75ZM115.62 272.00 L115.62 271.75 L115.62 272.00ZM114.88 272.50 L114.88 272.25 L114.88 272.50ZM114.12 273.00 L114.12 272.75 L114.12 273.00ZM112.62 274.00 L112.62 273.75 L112.62 274.00ZM111.88 274.50 L111.88 274.25 L111.88 274.50ZM108.38 276.50 L108.38 276.25 L108.38 276.50Z" fill="#0be05c" stroke="#0be05c" stroke-width="0.25" fill-rule="evenodd"/>
<path d="M129.38 258.50 L129.25 258.12 L130.00 257.38 L130.50 256.38 L131.25 255.62 L131.50 254.88 L132.75 253.38 L133.00 252.62 L134.00 251.38 L136.00 247.62 L136.50 247.12 L137.00 245.88 L137.50 245.38 L141.50 237.38 L141.50 236.88 L143.00 234.12 L143.00 233.62 L144.50 230.62 L144.50 230.12 L145.50 228.12 L146.00 226.38 L146.75 225.12 L147.00 223.88 L147.50 223.12 L147.75 221.88 L148.75 219.88 L148.75 219.38 L149.00 219.12 L149.25 217.88 L149.75 217.12 L150.75 213.62 L151.25 212.88 L151.25 212.38 L153.25 206.88 L153.25 206.12 L153.75 205.12 L153.75 204.62 L154.25 203.88 L154.25 203.12 L155.25 200.62 L155.25 199.88 L156.00 198.12 L156.00 197.38 L156.50 196.38 L157.00 193.88 L157.50 193.12 L157.50 192.38 L158.00 191.38 L158.50 188.88 L163.62 185.25 L164.12 185.25 L164.25 185.38 L164.00 185.62 L164.00 186.12 L163.75 186.38 L163.75 186.88 L163.50 187.12 L163.50 187.62 L163.25 187.88 L163.00 189.12 L162.75 189.38 L162.50 190.62 L160.50 196.12 L160.50 196.62 L160.00 197.38 L159.50 199.38 L159.00 200.12 L159.00 200.88 L158.50 201.62 L158.25 202.88 L157.75 203.62 L157.50 204.88 L156.25 207.62 L156.00 208.88 L155.50 209.62 L155.50 210.12 L155.00 210.88 L155.00 211.38 L154.50 212.12 L154.00 213.88 L153.00 215.88 L153.00 216.38 L152.25 217.62 L152.25 218.12 L150.00 222.88 L150.00 223.38 L147.25 228.88 L147.25 229.38 L143.75 236.38 L143.25 236.88 L141.75 240.12 L141.25 240.62 L140.75 241.88 L139.50 243.62 L139.00 244.88 L138.00 246.12 L137.75 246.88 L136.75 248.12 L136.50 248.88 L134.00 252.62 L131.75 255.38 L131.25 256.38 L129.38 258.50ZM128.62 259.50 L128.50 259.12 L129.12 258.50 L129.25 258.88 L128.62 259.50ZM128.38 259.75 L128.38 259.50 L128.38 259.75ZM128.12 260.00 L128.12 259.75 L128.12 260.00ZM127.88 260.25 L127.88 260.00 L127.88 260.25ZM127.38 261.00 L127.25 260.62 L127.62 260.25 L127.75 260.62 L127.38 261.00ZM127.12 261.25 L127.12 261.00 L127.12 261.25ZM126.88 261.50 L126.88 261.25 L126.88 261.50ZM126.62 261.75 L126.62 261.50 L126.62 261.75ZM126.38 262.00 L126.38 261.75 L126.38 262.00ZM126.12 262.25 L126.12 262.00 L126.12 262.25ZM125.88 262.75 L125.88 262.50 L125.88 262.75ZM125.38 263.25 L125.38 263.00 L125.38 263.25ZM125.12 263.50 L125.12 263.25 L125.12 263.50ZM124.88 263.75 L124.88 263.50 L124.88 263.75ZM124.62 264.00 L124.62 263.75 L124.62 264.00ZM124.38 264.25 L124.38 264.00 L124.38 264.25Z" fill="#fc6262" stroke="#fc6262" stroke-width="0.25" fill-rule="evenodd"/>
<clipPath id="su3"><path d="M105.88 277.75 L93.88 273.50 L91.12 272.25 L89.12 271.75 L86.38 270.50 L84.38 270.00 L79.62 268.00 L77.62 267.50 L76.88 267.00 L74.88 266.50 L74.12 266.00 L72.12 265.50 L69.38 264.25 L67.38 263.75 L64.62 262.50 L62.62 262.00 L59.88 260.75 L55.12 259.25 L50.38 257.25 L45.62 255.75 L42.88 254.50 L40.88 254.00 L40.12 253.50 L36.88 252.50 L36.25 251.88 L85.38 233.75 L92.62 230.25 L97.38 227.25 L103.12 222.75 L109.38 217.00 L164.62 164.75 L164.75 165.62 L163.50 169.88 L163.50 170.88 L158.75 188.38 L159.38 188.25 L163.62 185.25 L164.25 185.38 L160.50 196.62 L159.00 200.12 L159.00 200.88 L153.00 216.38 L148.75 226.12 L147.25 228.88 L147.25 229.38 L143.75 236.38 L139.00 244.88 L134.00 252.62 L126.00 262.62 L121.12 267.50 L117.62 270.50 L111.88 274.50 L105.88 277.75Z" fill-rule="evenodd"/></clipPath>
<g clip-path="url(#su3)" stroke-opacity="0.07"><line x1="36.30" y1="252.04" x2="95.65" y2="230.01" stroke="#000" stroke-width="0.6"/>
<line x1="95.65" y1="230.01" x2="162.00" y2="248.67" stroke="#000" stroke-width="0.6"/>
<line x1="35.75" y1="237.90" x2="95.59" y2="217.69" stroke="#000" stroke-width="0.6"/>
<line x1="95.59" y1="217.69" x2="162.45" y2="234.87" stroke="#000" stroke-width="0.6"/>
<line x1="35.19" y1="223.53" x2="95.52" y2="205.20" stroke="#000" stroke-width="0.6"/>
<line x1="95.52" y1="205.20" x2="162.90" y2="220.86" stroke="#000" stroke-width="0.6"/>
<line x1="34.63" y1="208.94" x2="95.45" y2="192.54" stroke="#000" stroke-width="0.6"/>
<line x1="95.45" y1="192.54" x2="163.35" y2="206.62" stroke="#000" stroke-width="0.6"/>
<line x1="34.05" y1="194.10" x2="95.39" y2="179.70" stroke="#000" stroke-width="0.6"/>
<line x1="95.39" y1="179.70" x2="163.82" y2="192.16" stroke="#000" stroke-width="0.6"/>
<line x1="33.47" y1="179.02" x2="95.32" y2="166.69" stroke="#000" stroke-width="0.6"/>
<line x1="95.32" y1="166.69" x2="164.29" y2="177.47" stroke="#000" stroke-width="0.6"/>
<line x1="32.87" y1="163.69" x2="95.25" y2="153.48" stroke="#000" stroke-width="0.6"/>
<line x1="95.25" y1="153.48" x2="164.77" y2="162.54" stroke="#000" stroke-width="0.6"/>
<line x1="36.30" y1="252.04" x2="32.87" y2="163.69" stroke="#000" stroke-width="0.6"/>
<line x1="45.92" y1="248.47" x2="43.04" y2="162.02" stroke="#000" stroke-width="0.6"/>
<line x1="63.92" y1="241.78" x2="62.01" y2="158.92" stroke="#000" stroke-width="0.6"/>
<line x1="80.44" y1="235.65" x2="79.35" y2="156.08" stroke="#000" stroke-width="0.6"/>
<line x1="95.65" y1="230.01" x2="95.25" y2="153.48" stroke="#000" stroke-width="0.6"/>
<line x1="95.65" y1="230.01" x2="95.25" y2="153.48" stroke="#000" stroke-width="0.6"/>
<line x1="105.62" y1="232.81" x2="105.65" y2="154.84" stroke="#000" stroke-width="0.6"/>
<line x1="115.99" y1="235.73" x2="116.48" y2="156.25" stroke="#000" stroke-width="0.6"/>
<line x1="126.79" y1="238.76" x2="127.78" y2="157.72" stroke="#000" stroke-width="0.6"/>
<line x1="138.04" y1="241.93" x2="139.57" y2="159.26" stroke="#000" stroke-width="0.6"/>
<line x1="149.76" y1="245.22" x2="151.89" y2="160.86" stroke="#000" stroke-width="0.6"/>
<line x1="162.00" y1="248.67" x2="164.77" y2="162.54" stroke="#000" stroke-width="0.6"/>
<line x1="46.55" y1="255.81" x2="105.62" y2="232.81" stroke="#000" stroke-width="0.6"/>
<line x1="57.28" y1="259.75" x2="115.99" y2="235.73" stroke="#000" stroke-width="0.6"/>
<line x1="68.53" y1="263.89" x2="126.79" y2="238.76" stroke="#000" stroke-width="0.6"/>
<line x1="80.33" y1="268.23" x2="138.04" y2="241.93" stroke="#000" stroke-width="0.6"/>
<line x1="92.73" y1="272.79" x2="149.76" y2="245.22" stroke="#000" stroke-width="0.6"/>
<line x1="105.77" y1="277.58" x2="162.00" y2="248.67" stroke="#000" stroke-width="0.6"/>
<line x1="45.92" y1="248.47" x2="115.05" y2="272.81" stroke="#000" stroke-width="0.6"/>
<line x1="63.92" y1="241.78" x2="132.24" y2="263.97" stroke="#000" stroke-width="0.6"/>
<line x1="80.44" y1="235.65" x2="147.82" y2="255.96" stroke="#000" stroke-width="0.6"/>
<line x1="95.65" y1="230.01" x2="162.00" y2="248.67" stroke="#000" stroke-width="0.6"/></g>
<clipPath id="or3"><path d="M84.12 234.25 L84.12 234.00 L84.12 234.25ZM82.12 235.00 L82.12 234.75 L82.12 235.00ZM80.12 235.75 L80.12 235.50 L80.12 235.75ZM78.12 236.50 L78.12 236.25 L78.12 236.50ZM77.38 236.75 L77.38 236.50 L77.38 236.75ZM76.12 237.25 L76.12 237.00 L76.12 237.25ZM75.38 237.50 L75.38 237.25 L75.38 237.50ZM74.12 238.00 L74.12 237.75 L74.12 238.00ZM73.38 238.25 L73.38 238.00 L73.38 238.25ZM72.88 238.50 L72.88 238.25 L72.88 238.50ZM72.12 238.75 L72.12 238.50 L72.12 238.75ZM71.38 239.00 L71.38 238.75 L71.38 239.00ZM70.88 239.25 L70.88 239.00 L70.88 239.25ZM70.38 239.50 L70.00 239.38 L70.38 239.25 L70.38 239.50ZM69.62 239.75 L69.25 239.62 L69.62 239.50 L69.62 239.75ZM68.88 240.00 L68.50 239.88 L68.88 239.75 L68.88 240.00ZM68.38 240.25 L68.00 240.12 L68.38 240.00 L68.38 240.25ZM67.62 240.50 L67.25 240.38 L67.62 240.25 L67.62 240.50ZM66.88 240.75 L66.88 240.50 L66.88 240.75ZM66.38 241.00 L66.00 240.88 L66.38 240.75 L66.38 241.00ZM64.62 241.75 L64.00 241.62 L65.38 241.00 L66.00 241.12 L64.62 241.75ZM105.88 277.75 L101.88 276.25 L101.38 276.25 L100.62 275.75 L99.38 275.50 L98.62 275.00 L96.62 274.50 L95.88 274.00 L93.88 273.50 L91.12 272.25 L89.12 271.75 L86.38 270.50 L84.38 270.00 L83.62 269.50 L82.38 269.25 L79.62 268.00 L77.62 267.50 L76.88 267.00 L74.88 266.50 L74.12 266.00 L72.12 265.50 L69.38 264.25 L67.38 263.75 L64.62 262.50 L62.62 262.00 L59.88 260.75 L57.88 260.25 L57.12 259.75 L56.62 259.75 L55.62 259.25 L55.12 259.25 L54.38 258.75 L53.12 258.50 L50.38 257.25 L49.88 257.25 L49.62 257.00 L48.38 256.75 L47.62 256.25 L45.62 255.75 L42.88 254.50 L40.88 254.00 L40.12 253.50 L36.88 252.50 L36.38 252.25 L36.25 251.88 L37.62 251.50 L38.38 251.00 L39.62 250.75 L40.38 250.25 L41.62 250.00 L42.38 249.50 L44.38 249.00 L45.12 248.50 L46.38 248.25 L47.12 247.75 L48.38 247.50 L49.12 247.00 L50.38 246.75 L51.12 246.25 L55.12 245.00 L55.88 244.50 L57.12 244.25 L57.88 243.75 L59.12 243.50 L59.88 243.00 L61.12 242.75 L61.88 242.25 L63.88 241.75 L63.88 242.00 L61.38 243.25 L60.00 244.62 L60.62 245.75 L63.38 247.25 L63.88 247.25 L65.88 248.25 L67.88 248.75 L68.62 249.25 L69.38 249.25 L69.62 249.50 L70.88 249.75 L74.12 251.00 L74.88 251.00 L78.12 252.25 L78.88 252.25 L79.12 252.50 L79.62 252.50 L81.38 253.25 L82.12 253.25 L84.62 254.25 L85.38 254.25 L87.12 255.00 L89.62 255.50 L91.38 256.25 L92.12 256.25 L94.62 257.25 L95.38 257.25 L98.12 258.25 L98.88 258.25 L102.12 259.50 L102.88 259.50 L103.12 259.75 L104.62 260.00 L105.62 260.50 L106.38 260.50 L108.12 261.25 L110.62 261.75 L111.38 262.25 L112.12 262.25 L112.38 262.50 L113.88 262.75 L114.88 263.25 L115.62 263.25 L117.38 264.00 L119.88 264.50 L121.62 265.25 L122.38 265.25 L122.75 265.62 L122.75 265.88 L121.88 266.50 L121.62 267.00 L121.38 267.00 L118.12 270.00 L115.12 272.25 L110.12 275.50 L108.38 276.25 L107.88 276.75 L105.88 277.75Z" fill-rule="evenodd"/></clipPath>
<g clip-path="url(#or3)" stroke-opacity="0.45"><line x1="46.55" y1="255.81" x2="105.62" y2="232.81" stroke="#ff3a10" stroke-width="0.6"/>
<line x1="57.28" y1="259.75" x2="115.99" y2="235.73" stroke="#ff3a10" stroke-width="0.6"/>
<line x1="68.53" y1="263.89" x2="126.79" y2="238.76" stroke="#ff3a10" stroke-width="0.6"/>
<line x1="80.33" y1="268.23" x2="138.04" y2="241.93" stroke="#ff3a10" stroke-width="0.6"/>
<line x1="92.73" y1="272.79" x2="149.76" y2="245.22" stroke="#ff3a10" stroke-width="0.6"/>
<line x1="45.92" y1="248.47" x2="115.05" y2="272.81" stroke="#ff3a10" stroke-width="0.6"/>
<line x1="63.92" y1="241.78" x2="132.24" y2="263.97" stroke="#ff3a10" stroke-width="0.6"/>
<line x1="80.44" y1="235.65" x2="147.82" y2="255.96" stroke="#ff3a10" stroke-width="0.6"/></g>
<line x1="36.30" y1="252.04" x2="105.77" y2="277.58" stroke="#18a040" stroke-width="0.7"/>
<line x1="36.30" y1="252.04" x2="32.87" y2="163.69" stroke="#555" stroke-width="0.8"/>
<line x1="34.70" y1="252.04" x2="36.30" y2="252.04" stroke="#555" stroke-width="0.6"/>
<text transform="matrix(0.9375 -0.3480 0.0387 0.9992 34.30 254.04)" font-size="5.6" text-anchor="end" font-weight="normal" fill="#222">0</text>
<line x1="34.15" y1="237.90" x2="35.75" y2="237.90" stroke="#555" stroke-width="0.6"/>
<text transform="matrix(0.9474 -0.3200 0.0387 0.9992 33.75 239.90)" font-size="5.6" text-anchor="end" font-weight="normal" fill="#222">50</text>
<line x1="33.59" y1="223.53" x2="35.19" y2="223.53" stroke="#555" stroke-width="0.6"/>
<text transform="matrix(0.9568 -0.2907 0.0387 0.9992 33.19 225.53)" font-size="5.6" text-anchor="end" font-weight="normal" fill="#222">100</text>
<line x1="33.03" y1="208.94" x2="34.63" y2="208.94" stroke="#555" stroke-width="0.6"/>
<text transform="matrix(0.9655 -0.2602 0.0387 0.9992 32.63 210.94)" font-size="5.6" text-anchor="end" font-weight="normal" fill="#222">150</text>
<line x1="32.45" y1="194.10" x2="34.05" y2="194.10" stroke="#555" stroke-width="0.6"/>
<text transform="matrix(0.9735 -0.2285 0.0387 0.9992 32.05 196.10)" font-size="5.6" text-anchor="end" font-weight="normal" fill="#222">200</text>
<line x1="31.87" y1="179.02" x2="33.47" y2="179.02" stroke="#555" stroke-width="0.6"/>
<text transform="matrix(0.9807 -0.1955 0.0387 0.9992 31.47 181.02)" font-size="5.6" text-anchor="end" font-weight="normal" fill="#222">250</text>
<line x1="31.27" y1="163.69" x2="32.87" y2="163.69" stroke="#555" stroke-width="0.6"/>
<text transform="matrix(0.9869 -0.1615 0.0387 0.9992 30.87 165.69)" font-size="5.6" text-anchor="end" font-weight="normal" fill="#222">300</text>
<text transform="matrix(0.9319 -0.3628 1.0305 0.3849 45.28 257.46)" font-size="5.0" text-anchor="end" font-weight="normal" fill="#222" stroke="#222" stroke-width="0.25">500</text>
<text transform="matrix(0.9255 -0.3787 1.0305 0.3849 56.02 261.47)" font-size="5.0" text-anchor="end" font-weight="normal" fill="#222" stroke="#222" stroke-width="0.25">1000</text>
<text transform="matrix(0.9182 -0.3960 1.0305 0.3849 67.28 265.68)" font-size="5.0" text-anchor="end" font-weight="normal" fill="#222" stroke="#222" stroke-width="0.25">1500</text>
<text transform="matrix(0.9099 -0.4148 1.0305 0.3849 79.11 270.09)" font-size="5.0" text-anchor="end" font-weight="normal" fill="#222" stroke="#222" stroke-width="0.25">2000</text>
<text transform="matrix(0.9004 -0.4351 1.0305 0.3849 91.53 274.73)" font-size="5.0" text-anchor="end" font-weight="normal" fill="#222" stroke="#222" stroke-width="0.25">2500</text>
<text transform="matrix(0.8893 -0.4573 1.0305 0.3849 104.60 279.61)" font-size="5.0" text-anchor="end" font-weight="normal" fill="#222" stroke="#222" stroke-width="0.25">3000</text>
<text transform="matrix(0.9267 0.3757 -0.7969 0.2958 21.08 264.40)" font-size="8.1" text-anchor="start" font-weight="normal" fill="#222" stroke="#222" stroke-width="0.4">Frequency (kHz)</text>
<line x1="105.77" y1="277.58" x2="162.00" y2="248.67" stroke="#555" stroke-width="0.6"/>
<text transform="translate(119.0,275.2) rotate(-28) scale(1,0.8)" font-size="3.2" font-weight="bold" text-anchor="middle" fill="#222">10</text>
<text transform="translate(136.2,266.4) rotate(-28) scale(1,0.8)" font-size="3.2" font-weight="bold" text-anchor="middle" fill="#222">20</text>
<text transform="translate(151.8,258.4) rotate(-28) scale(1,0.8)" font-size="3.2" font-weight="bold" text-anchor="middle" fill="#222">30</text>
<text transform="translate(166.0,251.1) rotate(-28) scale(1,0.8)" font-size="3.2" font-weight="bold" text-anchor="middle" fill="#222">40</text>
<text transform="translate(136.0,275.1) rotate(-27) scale(1,0.75)" font-size="7" font-weight="normal" fill="#222" stroke="#222" stroke-width="0.45">B<tspan font-size="4.6" dy="1.3">m</tspan><tspan dy="-1.3"> (mT)</tspan></text>
<text transform="translate(19.8,246.8) rotate(-90)" font-size="8.2" font-weight="bold" fill="#222" textLength="63.5" lengthAdjust="spacingAndGlyphs">P<tspan font-size="5.6" font-weight="normal" dy="1.8">hyst</tspan><tspan dy="-1.8"> (kW / m</tspan><tspan font-size="5.4" dy="-3.2">3</tspan><tspan dy="3.2">)</tspan></text>
<text x="6.1" y="165.5" font-size="9.8" fill="#222" style="font-family:'DejaVu Sans',sans-serif;font-stretch:normal" stroke="#222" stroke-width="0.25">(d)</text>
<text x="60.5" y="170.7" font-size="7.7" font-weight="bold" fill="#222">Hysteresis Loss</text>
<polygon points="47.1,173.5 55.5,173.5 53.1,180.6 44.7,180.6" fill="#fc6262"/>
<text x="60.5" y="180.2" font-size="7.7" fill="#222" stroke="#222" stroke-width="0.18">None easy-plane FeSi<tspan font-size="5.8" fill="#555" stroke="none" dy="1.6">3.5</tspan></text>
<text x="60.5" y="187.9" font-size="7.7" fill="#222" stroke="#222" stroke-width="0.18">composite</text>
<polygon points="47.1,192.8 55.5,192.8 53.1,199.9 44.7,199.9" fill="#0be05c"/>
<text x="60.5" y="199.5" font-size="7.7" fill="#222" stroke="#222" stroke-width="0.18">Easy-plane FeSi<tspan font-size="5.8" fill="#555" stroke="none" dy="1.6">3.5</tspan></text>
<text x="60.5" y="207.2" font-size="7.7" fill="#222" stroke="#222" stroke-width="0.18">composite</text>
<line x1="225.30" y1="252.04" x2="284.65" y2="230.01" stroke="#cfcfcf" stroke-width="0.6"/>
<line x1="284.65" y1="230.01" x2="351.00" y2="248.67" stroke="#cfcfcf" stroke-width="0.6"/>
<line x1="224.83" y1="239.93" x2="284.59" y2="219.46" stroke="#cfcfcf" stroke-width="0.6"/>
<line x1="284.59" y1="219.46" x2="351.38" y2="236.85" stroke="#cfcfcf" stroke-width="0.6"/>
<line x1="224.35" y1="227.66" x2="284.54" y2="208.79" stroke="#cfcfcf" stroke-width="0.6"/>
<line x1="284.54" y1="208.79" x2="351.77" y2="224.88" stroke="#cfcfcf" stroke-width="0.6"/>
<line x1="223.87" y1="215.22" x2="284.48" y2="197.99" stroke="#cfcfcf" stroke-width="0.6"/>
<line x1="284.48" y1="197.99" x2="352.16" y2="212.75" stroke="#cfcfcf" stroke-width="0.6"/>
<line x1="223.38" y1="202.61" x2="284.43" y2="187.06" stroke="#cfcfcf" stroke-width="0.6"/>
<line x1="284.43" y1="187.06" x2="352.55" y2="200.45" stroke="#cfcfcf" stroke-width="0.6"/>
<line x1="222.88" y1="189.82" x2="284.37" y2="176.00" stroke="#cfcfcf" stroke-width="0.6"/>
<line x1="284.37" y1="176.00" x2="352.95" y2="187.99" stroke="#cfcfcf" stroke-width="0.6"/>
<line x1="222.38" y1="176.84" x2="284.31" y2="164.81" stroke="#cfcfcf" stroke-width="0.6"/>
<line x1="284.31" y1="164.81" x2="353.36" y2="175.35" stroke="#cfcfcf" stroke-width="0.6"/>
<line x1="221.87" y1="163.69" x2="284.25" y2="153.48" stroke="#cfcfcf" stroke-width="0.6"/>
<line x1="284.25" y1="153.48" x2="353.77" y2="162.54" stroke="#cfcfcf" stroke-width="0.6"/>
<line x1="225.30" y1="252.04" x2="221.87" y2="163.69" stroke="#cfcfcf" stroke-width="0.6"/>
<line x1="234.92" y1="248.47" x2="232.04" y2="162.02" stroke="#cfcfcf" stroke-width="0.6"/>
<line x1="252.92" y1="241.78" x2="251.01" y2="158.92" stroke="#cfcfcf" stroke-width="0.6"/>
<line x1="269.44" y1="235.65" x2="268.35" y2="156.08" stroke="#cfcfcf" stroke-width="0.6"/>
<line x1="284.65" y1="230.01" x2="284.25" y2="153.48" stroke="#cfcfcf" stroke-width="0.6"/>
<line x1="284.65" y1="230.01" x2="284.25" y2="153.48" stroke="#cfcfcf" stroke-width="0.6"/>
<line x1="294.62" y1="232.81" x2="294.65" y2="154.84" stroke="#cfcfcf" stroke-width="0.6"/>
<line x1="304.99" y1="235.73" x2="305.48" y2="156.25" stroke="#cfcfcf" stroke-width="0.6"/>
<line x1="315.79" y1="238.76" x2="316.78" y2="157.72" stroke="#cfcfcf" stroke-width="0.6"/>
<line x1="327.04" y1="241.93" x2="328.57" y2="159.26" stroke="#cfcfcf" stroke-width="0.6"/>
<line x1="338.76" y1="245.22" x2="340.89" y2="160.86" stroke="#cfcfcf" stroke-width="0.6"/>
<line x1="351.00" y1="248.67" x2="353.77" y2="162.54" stroke="#cfcfcf" stroke-width="0.6"/>
<line x1="235.55" y1="255.81" x2="294.62" y2="232.81" stroke="#cfcfcf" stroke-width="0.6"/>
<line x1="246.28" y1="259.75" x2="304.99" y2="235.73" stroke="#cfcfcf" stroke-width="0.6"/>
<line x1="257.53" y1="263.89" x2="315.79" y2="238.76" stroke="#cfcfcf" stroke-width="0.6"/>
<line x1="269.33" y1="268.23" x2="327.04" y2="241.93" stroke="#cfcfcf" stroke-width="0.6"/>
<line x1="281.73" y1="272.79" x2="338.76" y2="245.22" stroke="#cfcfcf" stroke-width="0.6"/>
<line x1="294.77" y1="277.58" x2="351.00" y2="248.67" stroke="#cfcfcf" stroke-width="0.6"/>
<line x1="234.92" y1="248.47" x2="304.05" y2="272.81" stroke="#cfcfcf" stroke-width="0.6"/>
<line x1="252.92" y1="241.78" x2="321.24" y2="263.97" stroke="#cfcfcf" stroke-width="0.6"/>
<line x1="269.44" y1="235.65" x2="336.82" y2="255.96" stroke="#cfcfcf" stroke-width="0.6"/>
<line x1="284.65" y1="230.01" x2="351.00" y2="248.67" stroke="#cfcfcf" stroke-width="0.6"/>
<path d="M294.88 277.75 L290.88 276.25 L290.38 276.25 L289.62 275.75 L288.38 275.50 L287.62 275.00 L285.62 274.50 L284.88 274.00 L282.88 273.50 L280.12 272.25 L278.12 271.75 L275.38 270.50 L273.38 270.00 L272.62 269.50 L271.38 269.25 L268.62 268.00 L266.62 267.50 L265.88 267.00 L263.88 266.50 L263.12 266.00 L261.12 265.50 L258.38 264.25 L256.38 263.75 L253.62 262.50 L251.62 262.00 L248.88 260.75 L246.88 260.25 L246.12 259.75 L245.62 259.75 L244.62 259.25 L244.12 259.25 L243.38 258.75 L242.12 258.50 L239.38 257.25 L238.88 257.25 L238.62 257.00 L237.38 256.75 L236.62 256.25 L234.62 255.75 L231.88 254.50 L229.88 254.00 L229.12 253.50 L225.88 252.50 L225.38 252.25 L225.25 251.88 L226.62 251.50 L227.38 251.00 L228.62 250.75 L229.38 250.25 L230.62 250.00 L231.38 249.50 L233.38 249.00 L234.12 248.50 L235.38 248.25 L236.12 247.75 L237.38 247.50 L238.12 247.00 L239.38 246.75 L240.12 246.25 L244.12 245.00 L244.88 244.50 L246.12 244.25 L246.88 243.75 L248.12 243.50 L248.88 243.00 L250.12 242.75 L250.88 242.25 L251.38 242.25 L252.38 241.75 L252.88 241.75 L253.62 241.25 L255.62 240.75 L257.62 239.75 L259.62 239.25 L260.38 238.75 L261.62 238.50 L262.38 238.00 L265.62 237.00 L266.38 236.50 L268.38 236.00 L269.12 235.50 L270.38 235.25 L273.12 234.00 L275.12 233.50 L275.88 233.00 L277.12 232.75 L277.88 232.25 L278.38 232.25 L279.88 231.50 L281.12 231.25 L281.88 230.75 L283.12 230.50 L283.88 230.00 L285.62 230.00 L286.62 230.50 L287.38 230.50 L288.38 231.00 L290.88 231.50 L291.88 232.00 L292.62 232.00 L294.62 232.75 L295.38 232.75 L297.38 233.50 L298.12 233.50 L299.12 234.00 L301.88 234.50 L302.88 235.00 L303.62 235.00 L305.62 235.75 L307.38 236.00 L307.62 236.25 L310.12 236.75 L311.12 237.25 L313.88 237.75 L314.88 238.25 L317.62 238.75 L317.88 239.00 L320.38 239.50 L320.62 239.75 L321.38 239.75 L322.38 240.25 L323.12 240.25 L323.25 240.62 L321.00 243.38 L315.75 250.62 L314.75 251.62 L311.75 255.88 L310.75 256.88 L309.25 259.12 L308.25 260.12 L306.00 263.38 L305.00 264.38 L303.50 266.62 L302.50 267.62 L301.00 269.88 L300.00 270.88 L294.88 277.75Z" fill="#c9600f" stroke="#c9600f" stroke-width="0.25" fill-rule="evenodd"/>
<path d="M323.38 240.25 L322.38 240.25 L321.38 239.75 L320.62 239.75 L320.38 239.50 L318.62 239.25 L317.62 238.75 L314.88 238.25 L313.88 237.75 L311.12 237.25 L310.12 236.75 L308.38 236.50 L307.38 236.00 L305.62 235.75 L304.62 235.25 L302.88 235.00 L302.62 234.75 L300.12 234.25 L299.88 234.00 L299.12 234.00 L296.38 233.00 L294.62 232.75 L293.62 232.25 L291.88 232.00 L290.88 231.50 L290.12 231.50 L289.12 231.00 L288.38 231.00 L287.38 230.50 L286.62 230.50 L285.62 230.00 L284.50 229.88 L287.12 229.50 L287.38 229.25 L288.38 229.25 L288.62 229.00 L289.62 229.00 L289.88 228.75 L290.88 228.75 L291.12 228.50 L292.12 228.50 L292.38 228.25 L293.38 228.25 L293.62 228.00 L297.38 227.25 L297.62 227.00 L299.12 226.75 L300.88 226.00 L304.38 225.00 L305.12 224.50 L305.62 224.50 L312.88 221.00 L313.38 220.50 L315.38 219.50 L322.62 214.25 L331.25 205.88 L331.25 205.62 L334.50 202.12 L334.50 201.88 L338.75 196.62 L339.25 195.62 L340.25 194.62 L340.50 193.88 L341.75 192.38 L343.75 189.38 L344.00 188.62 L345.50 186.62 L345.75 185.88 L346.75 184.62 L353.38 172.75 L353.50 173.62 L353.00 174.88 L352.50 177.62 L352.25 177.88 L352.00 179.88 L351.50 180.88 L351.50 181.62 L351.00 182.62 L351.00 183.38 L350.25 185.38 L350.00 187.12 L349.25 188.88 L349.25 189.62 L348.50 191.38 L348.50 192.12 L348.00 193.12 L346.50 198.12 L346.00 198.88 L345.25 201.62 L344.75 202.38 L344.50 203.62 L343.25 206.12 L342.75 207.88 L339.75 213.88 L339.50 214.88 L338.75 215.88 L335.75 221.88 L335.25 222.38 L332.75 226.88 L330.75 229.62 L330.50 230.38 L329.75 231.12 L327.25 235.12 L323.38 240.25Z" fill="#fc6262" stroke="#fc6262" stroke-width="0.25" fill-rule="evenodd"/>
<path d="M295.38 277.50 L295.25 277.12 L295.75 276.38 L298.50 273.12 L300.00 270.88 L301.00 269.88 L302.50 267.62 L303.50 266.62 L305.00 264.38 L306.00 263.38 L308.25 260.12 L309.25 259.12 L322.50 241.38 L323.38 240.50 L327.12 241.25 L328.12 241.75 L328.88 241.75 L330.12 242.25 L332.88 242.75 L333.88 243.25 L334.62 243.25 L334.88 243.50 L337.62 244.00 L338.88 244.50 L339.62 244.50 L340.62 245.00 L341.38 245.00 L341.62 245.25 L342.38 245.25 L342.62 245.50 L343.38 245.50 L343.62 245.75 L344.38 245.75 L344.62 246.00 L345.38 246.00 L345.62 246.25 L346.38 246.25 L346.62 246.50 L347.38 246.50 L347.62 246.75 L348.38 246.75 L348.62 247.00 L349.38 247.00 L349.62 247.25 L350.38 247.25 L351.25 247.62 L349.62 248.75 L347.88 249.50 L347.38 250.00 L339.12 254.25 L338.62 254.75 L336.38 255.75 L335.88 256.25 L333.12 257.50 L332.62 258.00 L329.88 259.25 L329.38 259.75 L326.12 261.25 L325.62 261.75 L321.38 263.75 L320.88 264.25 L318.12 265.50 L317.62 266.00 L312.88 268.25 L312.38 268.75 L307.12 271.25 L306.62 271.75 L306.12 271.75 L305.62 272.25 L299.88 275.00 L299.38 275.50 L295.38 277.50Z" fill="#0be05c" stroke="#0be05c" stroke-width="0.25" fill-rule="evenodd"/>
<clipPath id="su4"><path d="M294.88 277.75 L282.88 273.50 L280.12 272.25 L278.12 271.75 L275.38 270.50 L273.38 270.00 L268.62 268.00 L266.62 267.50 L265.88 267.00 L263.88 266.50 L263.12 266.00 L261.12 265.50 L258.38 264.25 L256.38 263.75 L253.62 262.50 L251.62 262.00 L248.88 260.75 L244.12 259.25 L239.38 257.25 L234.62 255.75 L231.88 254.50 L229.88 254.00 L229.12 253.50 L225.88 252.50 L225.25 251.88 L250.12 242.75 L250.88 242.25 L255.62 240.75 L266.38 236.50 L268.38 236.00 L273.12 234.00 L275.12 233.50 L283.88 230.00 L293.38 228.25 L304.38 225.00 L311.88 221.50 L315.38 219.50 L320.38 216.00 L324.88 212.25 L331.25 205.88 L334.50 202.12 L340.25 194.62 L340.50 193.88 L343.75 189.38 L348.25 182.12 L353.38 172.75 L353.50 173.62 L352.25 177.88 L352.00 179.88 L351.50 180.88 L348.50 192.12 L345.25 201.62 L341.75 210.12 L337.00 219.62 L332.75 226.88 L327.25 235.12 L323.25 240.38 L351.25 247.62 L329.38 259.75 L294.88 277.75Z" fill-rule="evenodd"/></clipPath>
<g clip-path="url(#su4)" stroke-opacity="0.07"><line x1="225.30" y1="252.04" x2="284.65" y2="230.01" stroke="#000" stroke-width="0.6"/>
<line x1="284.65" y1="230.01" x2="351.00" y2="248.67" stroke="#000" stroke-width="0.6"/>
<line x1="224.83" y1="239.93" x2="284.59" y2="219.46" stroke="#000" stroke-width="0.6"/>
<line x1="284.59" y1="219.46" x2="351.38" y2="236.85" stroke="#000" stroke-width="0.6"/>
<line x1="224.35" y1="227.66" x2="284.54" y2="208.79" stroke="#000" stroke-width="0.6"/>
<line x1="284.54" y1="208.79" x2="351.77" y2="224.88" stroke="#000" stroke-width="0.6"/>
<line x1="223.87" y1="215.22" x2="284.48" y2="197.99" stroke="#000" stroke-width="0.6"/>
<line x1="284.48" y1="197.99" x2="352.16" y2="212.75" stroke="#000" stroke-width="0.6"/>
<line x1="223.38" y1="202.61" x2="284.43" y2="187.06" stroke="#000" stroke-width="0.6"/>
<line x1="284.43" y1="187.06" x2="352.55" y2="200.45" stroke="#000" stroke-width="0.6"/>
<line x1="222.88" y1="189.82" x2="284.37" y2="176.00" stroke="#000" stroke-width="0.6"/>
<line x1="284.37" y1="176.00" x2="352.95" y2="187.99" stroke="#000" stroke-width="0.6"/>
<line x1="222.38" y1="176.84" x2="284.31" y2="164.81" stroke="#000" stroke-width="0.6"/>
<line x1="284.31" y1="164.81" x2="353.36" y2="175.35" stroke="#000" stroke-width="0.6"/>
<line x1="221.87" y1="163.69" x2="284.25" y2="153.48" stroke="#000" stroke-width="0.6"/>
<line x1="284.25" y1="153.48" x2="353.77" y2="162.54" stroke="#000" stroke-width="0.6"/>
<line x1="225.30" y1="252.04" x2="221.87" y2="163.69" stroke="#000" stroke-width="0.6"/>
<line x1="234.92" y1="248.47" x2="232.04" y2="162.02" stroke="#000" stroke-width="0.6"/>
<line x1="252.92" y1="241.78" x2="251.01" y2="158.92" stroke="#000" stroke-width="0.6"/>
<line x1="269.44" y1="235.65" x2="268.35" y2="156.08" stroke="#000" stroke-width="0.6"/>
<line x1="284.65" y1="230.01" x2="284.25" y2="153.48" stroke="#000" stroke-width="0.6"/>
<line x1="284.65" y1="230.01" x2="284.25" y2="153.48" stroke="#000" stroke-width="0.6"/>
<line x1="294.62" y1="232.81" x2="294.65" y2="154.84" stroke="#000" stroke-width="0.6"/>
<line x1="304.99" y1="235.73" x2="305.48" y2="156.25" stroke="#000" stroke-width="0.6"/>
<line x1="315.79" y1="238.76" x2="316.78" y2="157.72" stroke="#000" stroke-width="0.6"/>
<line x1="327.04" y1="241.93" x2="328.57" y2="159.26" stroke="#000" stroke-width="0.6"/>
<line x1="338.76" y1="245.22" x2="340.89" y2="160.86" stroke="#000" stroke-width="0.6"/>
<line x1="351.00" y1="248.67" x2="353.77" y2="162.54" stroke="#000" stroke-width="0.6"/>
<line x1="235.55" y1="255.81" x2="294.62" y2="232.81" stroke="#000" stroke-width="0.6"/>
<line x1="246.28" y1="259.75" x2="304.99" y2="235.73" stroke="#000" stroke-width="0.6"/>
<line x1="257.53" y1="263.89" x2="315.79" y2="238.76" stroke="#000" stroke-width="0.6"/>
<line x1="269.33" y1="268.23" x2="327.04" y2="241.93" stroke="#000" stroke-width="0.6"/>
<line x1="281.73" y1="272.79" x2="338.76" y2="245.22" stroke="#000" stroke-width="0.6"/>
<line x1="294.77" y1="277.58" x2="351.00" y2="248.67" stroke="#000" stroke-width="0.6"/>
<line x1="234.92" y1="248.47" x2="304.05" y2="272.81" stroke="#000" stroke-width="0.6"/>
<line x1="252.92" y1="241.78" x2="321.24" y2="263.97" stroke="#000" stroke-width="0.6"/>
<line x1="269.44" y1="235.65" x2="336.82" y2="255.96" stroke="#000" stroke-width="0.6"/>
<line x1="284.65" y1="230.01" x2="351.00" y2="248.67" stroke="#000" stroke-width="0.6"/></g>
<clipPath id="or4"><path d="M294.88 277.75 L290.88 276.25 L290.38 276.25 L289.62 275.75 L288.38 275.50 L287.62 275.00 L285.62 274.50 L284.88 274.00 L282.88 273.50 L280.12 272.25 L278.12 271.75 L275.38 270.50 L273.38 270.00 L272.62 269.50 L271.38 269.25 L268.62 268.00 L266.62 267.50 L265.88 267.00 L263.88 266.50 L263.12 266.00 L261.12 265.50 L258.38 264.25 L256.38 263.75 L253.62 262.50 L251.62 262.00 L248.88 260.75 L246.88 260.25 L246.12 259.75 L245.62 259.75 L244.62 259.25 L244.12 259.25 L243.38 258.75 L242.12 258.50 L239.38 257.25 L238.88 257.25 L238.62 257.00 L237.38 256.75 L236.62 256.25 L234.62 255.75 L231.88 254.50 L229.88 254.00 L229.12 253.50 L225.88 252.50 L225.38 252.25 L225.25 251.88 L226.62 251.50 L227.38 251.00 L228.62 250.75 L229.38 250.25 L230.62 250.00 L231.38 249.50 L233.38 249.00 L234.12 248.50 L235.38 248.25 L236.12 247.75 L237.38 247.50 L238.12 247.00 L239.38 246.75 L240.12 246.25 L244.12 245.00 L244.88 244.50 L246.12 244.25 L246.88 243.75 L248.12 243.50 L248.88 243.00 L250.12 242.75 L250.88 242.25 L251.38 242.25 L252.38 241.75 L252.88 241.75 L253.62 241.25 L255.62 240.75 L257.62 239.75 L259.62 239.25 L260.38 238.75 L261.62 238.50 L262.38 238.00 L265.62 237.00 L266.38 236.50 L268.38 236.00 L269.12 235.50 L270.38 235.25 L273.12 234.00 L275.12 233.50 L275.88 233.00 L277.12 232.75 L277.88 232.25 L278.38 232.25 L279.88 231.50 L281.12 231.25 L281.88 230.75 L283.12 230.50 L283.88 230.00 L285.62 230.00 L286.62 230.50 L287.38 230.50 L288.38 231.00 L290.88 231.50 L291.88 232.00 L292.62 232.00 L294.62 232.75 L295.38 232.75 L297.38 233.50 L298.12 233.50 L299.12 234.00 L301.88 234.50 L302.88 235.00 L303.62 235.00 L305.62 235.75 L307.38 236.00 L307.62 236.25 L310.12 236.75 L311.12 237.25 L313.88 237.75 L314.88 238.25 L317.62 238.75 L317.88 239.00 L320.38 239.50 L320.62 239.75 L321.38 239.75 L322.38 240.25 L323.12 240.25 L323.25 240.62 L321.00 243.38 L315.75 250.62 L314.75 251.62 L311.75 255.88 L310.75 256.88 L309.25 259.12 L308.25 260.12 L306.00 263.38 L305.00 264.38 L303.50 266.62 L302.50 267.62 L301.00 269.88 L300.00 270.88 L294.88 277.75Z" fill-rule="evenodd"/></clipPath>
<g clip-path="url(#or4)" stroke-opacity="0.45"><line x1="235.55" y1="255.81" x2="294.62" y2="232.81" stroke="#ff3a10" stroke-width="0.6"/>
<line x1="246.28" y1="259.75" x2="304.99" y2="235.73" stroke="#ff3a10" stroke-width="0.6"/>
<line x1="257.53" y1="263.89" x2="315.79" y2="238.76" stroke="#ff3a10" stroke-width="0.6"/>
<line x1="269.33" y1="268.23" x2="327.04" y2="241.93" stroke="#ff3a10" stroke-width="0.6"/>
<line x1="281.73" y1="272.79" x2="338.76" y2="245.22" stroke="#ff3a10" stroke-width="0.6"/>
<line x1="234.92" y1="248.47" x2="304.05" y2="272.81" stroke="#ff3a10" stroke-width="0.6"/>
<line x1="252.92" y1="241.78" x2="321.24" y2="263.97" stroke="#ff3a10" stroke-width="0.6"/>
<line x1="269.44" y1="235.65" x2="336.82" y2="255.96" stroke="#ff3a10" stroke-width="0.6"/></g>
<line x1="225.30" y1="252.04" x2="294.77" y2="277.58" stroke="#18a040" stroke-width="0.7"/>
<line x1="225.30" y1="252.04" x2="221.87" y2="163.69" stroke="#555" stroke-width="0.8"/>
<line x1="223.70" y1="252.04" x2="225.30" y2="252.04" stroke="#555" stroke-width="0.6"/>
<text transform="matrix(0.9375 -0.3480 0.0387 0.9992 223.30 254.04)" font-size="5.6" text-anchor="end" font-weight="normal" fill="#222">0</text>
<line x1="223.23" y1="239.93" x2="224.83" y2="239.93" stroke="#555" stroke-width="0.6"/>
<text transform="matrix(0.9460 -0.3241 0.0387 0.9992 222.83 241.93)" font-size="5.6" text-anchor="end" font-weight="normal" fill="#222">20</text>
<line x1="222.75" y1="227.66" x2="224.35" y2="227.66" stroke="#555" stroke-width="0.6"/>
<text transform="matrix(0.9542 -0.2992 0.0387 0.9992 222.35 229.66)" font-size="5.6" text-anchor="end" font-weight="normal" fill="#222">40</text>
<line x1="222.27" y1="215.22" x2="223.87" y2="215.22" stroke="#555" stroke-width="0.6"/>
<text transform="matrix(0.9619 -0.2734 0.0387 0.9992 221.87 217.22)" font-size="5.6" text-anchor="end" font-weight="normal" fill="#222">60</text>
<line x1="221.78" y1="202.61" x2="223.38" y2="202.61" stroke="#555" stroke-width="0.6"/>
<text transform="matrix(0.9691 -0.2468 0.0387 0.9992 221.38 204.61)" font-size="5.6" text-anchor="end" font-weight="normal" fill="#222">80</text>
<line x1="221.28" y1="189.82" x2="222.88" y2="189.82" stroke="#555" stroke-width="0.6"/>
<text transform="matrix(0.9757 -0.2192 0.0387 0.9992 220.88 191.82)" font-size="5.6" text-anchor="end" font-weight="normal" fill="#222">100</text>
<line x1="220.78" y1="176.84" x2="222.38" y2="176.84" stroke="#555" stroke-width="0.6"/>
<text transform="matrix(0.9816 -0.1907 0.0387 0.9992 220.38 178.84)" font-size="5.6" text-anchor="end" font-weight="normal" fill="#222">120</text>
<line x1="220.27" y1="163.69" x2="221.87" y2="163.69" stroke="#555" stroke-width="0.6"/>
<text transform="matrix(0.9869 -0.1615 0.0387 0.9992 219.87 165.69)" font-size="5.6" text-anchor="end" font-weight="normal" fill="#222">140</text>
<text transform="matrix(0.9319 -0.3628 1.0305 0.3849 234.28 257.46)" font-size="5.0" text-anchor="end" font-weight="normal" fill="#222" stroke="#222" stroke-width="0.25">500</text>
<text transform="matrix(0.9255 -0.3787 1.0305 0.3849 245.02 261.47)" font-size="5.0" text-anchor="end" font-weight="normal" fill="#222" stroke="#222" stroke-width="0.25">1000</text>
<text transform="matrix(0.9182 -0.3960 1.0305 0.3849 256.28 265.68)" font-size="5.0" text-anchor="end" font-weight="normal" fill="#222" stroke="#222" stroke-width="0.25">1500</text>
<text transform="matrix(0.9099 -0.4148 1.0305 0.3849 268.11 270.09)" font-size="5.0" text-anchor="end" font-weight="normal" fill="#222" stroke="#222" stroke-width="0.25">2000</text>
<text transform="matrix(0.9004 -0.4351 1.0305 0.3849 280.53 274.73)" font-size="5.0" text-anchor="end" font-weight="normal" fill="#222" stroke="#222" stroke-width="0.25">2500</text>
<text transform="matrix(0.8893 -0.4573 1.0305 0.3849 293.60 279.61)" font-size="5.0" text-anchor="end" font-weight="normal" fill="#222" stroke="#222" stroke-width="0.25">3000</text>
<text transform="matrix(0.9267 0.3757 -0.7969 0.2958 210.08 264.40)" font-size="8.1" text-anchor="start" font-weight="normal" fill="#222" stroke="#222" stroke-width="0.4">Frequency (kHz)</text>
<line x1="294.77" y1="277.58" x2="351.00" y2="248.67" stroke="#555" stroke-width="0.6"/>
<text transform="translate(308.0,275.2) rotate(-28) scale(1,0.8)" font-size="3.2" font-weight="bold" text-anchor="middle" fill="#222">10</text>
<text transform="translate(325.2,266.4) rotate(-28) scale(1,0.8)" font-size="3.2" font-weight="bold" text-anchor="middle" fill="#222">20</text>
<text transform="translate(340.8,258.4) rotate(-28) scale(1,0.8)" font-size="3.2" font-weight="bold" text-anchor="middle" fill="#222">30</text>
<text transform="translate(355.0,251.1) rotate(-28) scale(1,0.8)" font-size="3.2" font-weight="bold" text-anchor="middle" fill="#222">40</text>
<text transform="translate(325.0,275.1) rotate(-27) scale(1,0.75)" font-size="7" font-weight="normal" fill="#222" stroke="#222" stroke-width="0.45">B<tspan font-size="4.6" dy="1.3">m</tspan><tspan dy="-1.3"> (mT)</tspan></text>
<text transform="translate(209.1,247.1) rotate(-90)" font-size="8.2" font-weight="bold" fill="#222" textLength="62.8" lengthAdjust="spacingAndGlyphs">P<tspan font-size="5.6" font-weight="normal" dy="1.8">eddy</tspan><tspan dy="-1.8"> (kW / m</tspan><tspan font-size="5.4" dy="-3.2">3</tspan><tspan dy="3.2">)</tspan></text>
<text x="192.4" y="165.5" font-size="9.8" fill="#222" style="font-family:'DejaVu Sans',sans-serif;font-stretch:normal" stroke="#222" stroke-width="0.25">(e)</text>
<text x="249.5" y="170.7" font-size="7.7" font-weight="bold" fill="#222">Eddy Current Loss</text>
<polygon points="236.1,173.5 244.5,173.5 242.1,180.6 233.7,180.6" fill="#fc6262"/>
<text x="249.5" y="180.2" font-size="7.7" fill="#222" stroke="#222" stroke-width="0.18">None easy-plane FeSi<tspan font-size="5.8" fill="#555" stroke="none" dy="1.6">3.5</tspan></text>
<text x="249.5" y="187.9" font-size="7.7" fill="#222" stroke="#222" stroke-width="0.18">composite</text>
<polygon points="236.1,192.8 244.5,192.8 242.1,199.9 233.7,199.9" fill="#0be05c"/>
<text x="249.5" y="199.5" font-size="7.7" fill="#222" stroke="#222" stroke-width="0.18">Easy-plane FeSi<tspan font-size="5.8" fill="#555" stroke="none" dy="1.6">3.5</tspan></text>
<text x="249.5" y="207.2" font-size="7.7" fill="#222" stroke="#222" stroke-width="0.18">composite</text>
<line x1="414.30" y1="252.04" x2="473.65" y2="230.01" stroke="#cfcfcf" stroke-width="0.6"/>
<line x1="473.65" y1="230.01" x2="540.00" y2="248.67" stroke="#cfcfcf" stroke-width="0.6"/>
<line x1="413.64" y1="235.04" x2="473.57" y2="215.21" stroke="#cfcfcf" stroke-width="0.6"/>
<line x1="473.57" y1="215.21" x2="540.54" y2="232.08" stroke="#cfcfcf" stroke-width="0.6"/>
<line x1="412.97" y1="217.72" x2="473.49" y2="200.16" stroke="#cfcfcf" stroke-width="0.6"/>
<line x1="473.49" y1="200.16" x2="541.08" y2="215.19" stroke="#cfcfcf" stroke-width="0.6"/>
<line x1="412.28" y1="200.06" x2="473.41" y2="184.86" stroke="#cfcfcf" stroke-width="0.6"/>
<line x1="473.41" y1="184.86" x2="541.63" y2="197.97" stroke="#cfcfcf" stroke-width="0.6"/>
<line x1="411.58" y1="182.05" x2="473.33" y2="169.30" stroke="#cfcfcf" stroke-width="0.6"/>
<line x1="473.33" y1="169.30" x2="542.20" y2="180.43" stroke="#cfcfcf" stroke-width="0.6"/>
<line x1="410.87" y1="163.69" x2="473.25" y2="153.48" stroke="#cfcfcf" stroke-width="0.6"/>
<line x1="473.25" y1="153.48" x2="542.77" y2="162.54" stroke="#cfcfcf" stroke-width="0.6"/>
<line x1="414.30" y1="252.04" x2="410.87" y2="163.69" stroke="#cfcfcf" stroke-width="0.6"/>
<line x1="423.92" y1="248.47" x2="421.04" y2="162.02" stroke="#cfcfcf" stroke-width="0.6"/>
<line x1="441.92" y1="241.78" x2="440.01" y2="158.92" stroke="#cfcfcf" stroke-width="0.6"/>
<line x1="458.44" y1="235.65" x2="457.35" y2="156.08" stroke="#cfcfcf" stroke-width="0.6"/>
<line x1="473.65" y1="230.01" x2="473.25" y2="153.48" stroke="#cfcfcf" stroke-width="0.6"/>
<line x1="473.65" y1="230.01" x2="473.25" y2="153.48" stroke="#cfcfcf" stroke-width="0.6"/>
<line x1="483.62" y1="232.81" x2="483.65" y2="154.84" stroke="#cfcfcf" stroke-width="0.6"/>
<line x1="493.99" y1="235.73" x2="494.48" y2="156.25" stroke="#cfcfcf" stroke-width="0.6"/>
<line x1="504.79" y1="238.76" x2="505.78" y2="157.72" stroke="#cfcfcf" stroke-width="0.6"/>
<line x1="516.04" y1="241.93" x2="517.57" y2="159.26" stroke="#cfcfcf" stroke-width="0.6"/>
<line x1="527.76" y1="245.22" x2="529.89" y2="160.86" stroke="#cfcfcf" stroke-width="0.6"/>
<line x1="540.00" y1="248.67" x2="542.77" y2="162.54" stroke="#cfcfcf" stroke-width="0.6"/>
<line x1="424.55" y1="255.81" x2="483.62" y2="232.81" stroke="#cfcfcf" stroke-width="0.6"/>
<line x1="435.28" y1="259.75" x2="493.99" y2="235.73" stroke="#cfcfcf" stroke-width="0.6"/>
<line x1="446.53" y1="263.89" x2="504.79" y2="238.76" stroke="#cfcfcf" stroke-width="0.6"/>
<line x1="458.33" y1="268.23" x2="516.04" y2="241.93" stroke="#cfcfcf" stroke-width="0.6"/>
<line x1="470.73" y1="272.79" x2="527.76" y2="245.22" stroke="#cfcfcf" stroke-width="0.6"/>
<line x1="483.77" y1="277.58" x2="540.00" y2="248.67" stroke="#cfcfcf" stroke-width="0.6"/>
<line x1="423.92" y1="248.47" x2="493.05" y2="272.81" stroke="#cfcfcf" stroke-width="0.6"/>
<line x1="441.92" y1="241.78" x2="510.24" y2="263.97" stroke="#cfcfcf" stroke-width="0.6"/>
<line x1="458.44" y1="235.65" x2="525.82" y2="255.96" stroke="#cfcfcf" stroke-width="0.6"/>
<line x1="473.65" y1="230.01" x2="540.00" y2="248.67" stroke="#cfcfcf" stroke-width="0.6"/>
<path d="M483.88 277.75 L479.88 276.25 L479.38 276.25 L478.62 275.75 L477.38 275.50 L476.62 275.00 L474.62 274.50 L473.88 274.00 L471.88 273.50 L469.12 272.25 L467.12 271.75 L464.38 270.50 L462.38 270.00 L461.62 269.50 L460.38 269.25 L457.62 268.00 L455.62 267.50 L454.88 267.00 L452.88 266.50 L452.12 266.00 L450.12 265.50 L447.38 264.25 L445.38 263.75 L442.62 262.50 L440.62 262.00 L437.88 260.75 L435.88 260.25 L435.12 259.75 L434.62 259.75 L433.62 259.25 L433.12 259.25 L432.38 258.75 L431.12 258.50 L428.38 257.25 L427.88 257.25 L427.62 257.00 L426.38 256.75 L425.62 256.25 L423.62 255.75 L420.88 254.50 L418.88 254.00 L418.12 253.50 L414.88 252.50 L414.38 252.25 L414.25 251.88 L415.62 251.50 L416.38 251.00 L417.62 250.75 L418.38 250.25 L419.62 250.00 L420.38 249.50 L422.38 249.00 L423.12 248.50 L424.38 248.25 L425.12 247.75 L426.38 247.50 L427.12 247.00 L428.38 246.75 L429.12 246.25 L433.12 245.00 L433.88 244.50 L435.12 244.25 L435.88 243.75 L437.12 243.50 L437.88 243.00 L439.12 242.75 L439.88 242.25 L440.38 242.25 L441.38 241.75 L441.88 241.75 L442.62 241.25 L444.62 240.75 L446.62 239.75 L448.62 239.25 L449.38 238.75 L450.62 238.50 L451.38 238.00 L454.62 237.00 L455.38 236.50 L457.38 236.00 L458.12 235.50 L459.38 235.25 L462.12 234.00 L464.12 233.50 L464.88 233.00 L466.12 232.75 L466.88 232.25 L467.38 232.25 L468.88 231.50 L470.12 231.25 L470.88 230.75 L472.12 230.50 L472.88 230.00 L474.62 230.00 L474.88 230.25 L475.62 230.25 L476.62 230.75 L477.62 230.75 L478.88 231.25 L479.62 231.25 L479.88 231.50 L480.88 231.50 L482.12 232.00 L483.12 232.00 L484.38 232.50 L485.38 232.50 L485.62 232.75 L486.62 232.75 L486.88 233.00 L487.88 233.00 L488.12 233.25 L489.12 233.25 L489.38 233.50 L490.38 233.50 L490.62 233.75 L494.12 234.25 L494.38 234.50 L495.62 234.50 L495.88 234.75 L498.38 235.00 L498.62 235.25 L499.62 235.25 L499.88 235.50 L501.12 235.50 L501.38 235.75 L502.62 235.75 L502.88 236.00 L504.12 236.00 L504.38 236.25 L505.62 236.25 L505.88 236.50 L507.12 236.50 L507.38 236.75 L508.62 236.75 L508.88 237.00 L510.12 237.00 L510.38 237.25 L511.62 237.25 L511.88 237.50 L514.38 237.75 L514.50 238.12 L513.75 238.88 L513.25 239.88 L512.50 240.62 L507.25 247.88 L506.25 248.88 L501.25 255.62 L498.25 259.12 L497.75 260.12 L495.75 262.38 L495.00 263.62 L493.00 265.88 L492.25 267.12 L491.25 268.12 L488.75 271.62 L487.50 272.88 L483.88 277.75Z" fill="#c9600f" stroke="#c9600f" stroke-width="0.25" fill-rule="evenodd"/>
<path d="M514.62 237.75 L511.88 237.50 L511.62 237.25 L510.38 237.25 L510.12 237.00 L508.88 237.00 L508.62 236.75 L507.38 236.75 L507.12 236.50 L502.88 236.00 L502.62 235.75 L501.38 235.75 L501.12 235.50 L499.88 235.50 L499.62 235.25 L497.12 235.00 L496.88 234.75 L495.88 234.75 L495.62 234.50 L494.38 234.50 L494.12 234.25 L491.88 234.00 L491.62 233.75 L490.62 233.75 L490.38 233.50 L489.38 233.50 L489.12 233.25 L488.12 233.25 L487.88 233.00 L486.88 233.00 L486.62 232.75 L484.38 232.50 L483.12 232.00 L482.12 232.00 L480.88 231.50 L479.88 231.50 L479.62 231.25 L477.88 231.00 L477.62 230.75 L476.62 230.75 L475.62 230.25 L473.50 229.88 L474.38 229.75 L474.62 229.50 L475.12 229.50 L475.38 229.25 L475.88 229.25 L476.12 229.00 L476.62 229.00 L476.88 228.75 L477.38 228.75 L482.88 226.75 L483.38 226.75 L484.88 226.00 L485.38 226.00 L486.12 225.50 L486.62 225.50 L487.38 225.00 L489.12 224.50 L491.38 223.25 L491.88 223.25 L495.38 221.50 L495.88 221.00 L497.62 220.25 L498.12 219.75 L498.88 219.50 L503.12 216.75 L503.88 216.00 L506.88 214.00 L511.62 209.75 L511.88 209.75 L517.25 204.38 L517.25 204.12 L521.25 199.88 L521.25 199.62 L522.25 198.62 L522.25 198.38 L523.25 197.38 L524.00 196.12 L527.25 192.12 L534.75 180.88 L535.00 180.12 L535.50 179.62 L537.50 175.88 L538.00 175.38 L538.75 173.62 L539.25 173.12 L540.75 170.12 L541.25 169.62 L541.25 169.12 L542.62 167.00 L542.75 167.62 L542.50 167.88 L542.50 168.88 L542.00 170.12 L542.00 171.12 L541.75 171.38 L541.75 172.38 L541.25 173.62 L541.25 174.62 L541.00 174.88 L541.00 175.62 L540.50 176.88 L540.50 177.88 L540.00 179.12 L540.00 180.12 L539.25 182.12 L539.25 182.88 L539.00 183.12 L538.75 184.88 L538.50 185.12 L538.50 185.88 L538.25 186.12 L538.25 186.88 L537.75 188.12 L537.75 188.88 L536.75 191.62 L536.25 194.12 L535.75 194.88 L535.75 195.62 L535.50 195.88 L533.25 203.12 L532.00 205.88 L531.75 207.12 L531.25 207.88 L530.75 209.62 L530.00 210.88 L530.00 211.38 L529.00 213.12 L529.00 213.62 L527.25 216.88 L527.25 217.38 L526.50 218.88 L526.00 219.38 L524.50 222.62 L524.00 223.12 L523.50 224.38 L523.00 224.88 L522.50 226.12 L521.50 227.38 L520.50 229.38 L514.62 237.75Z" fill="#fc6262" stroke="#fc6262" stroke-width="0.25" fill-rule="evenodd"/>
<path d="M484.38 277.50 L484.25 277.12 L485.00 276.38 L485.00 276.12 L486.00 275.12 L487.50 272.88 L488.75 271.62 L493.00 265.88 L497.75 260.12 L498.25 259.12 L499.50 257.88 L502.75 253.38 L507.25 247.88 L514.62 237.75 L515.12 238.00 L518.12 238.25 L518.38 238.50 L521.62 238.75 L521.88 239.00 L526.88 239.50 L527.12 239.75 L528.88 239.75 L529.12 240.00 L530.62 240.00 L530.88 240.25 L532.38 240.25 L532.62 240.50 L534.38 240.50 L534.62 240.75 L536.38 240.75 L536.62 241.00 L538.38 241.00 L538.62 241.25 L540.25 241.38 L540.25 241.62 L538.88 242.75 L532.88 246.75 L532.12 247.50 L530.38 248.50 L529.62 249.25 L513.12 260.25 L512.38 260.50 L508.88 263.00 L506.88 264.00 L504.88 265.50 L502.88 266.50 L501.62 267.50 L499.62 268.50 L495.88 271.00 L494.62 271.50 L492.88 272.75 L491.62 273.25 L489.88 274.50 L488.62 275.00 L488.12 275.50 L486.38 276.25 L485.88 276.75 L484.38 277.50Z" fill="#0be05c" stroke="#0be05c" stroke-width="0.25" fill-rule="evenodd"/>
<clipPath id="su5"><path d="M483.88 277.75 L471.88 273.50 L469.12 272.25 L467.12 271.75 L464.38 270.50 L462.38 270.00 L457.62 268.00 L455.62 267.50 L454.88 267.00 L452.88 266.50 L452.12 266.00 L450.12 265.50 L447.38 264.25 L445.38 263.75 L442.62 262.50 L440.62 262.00 L437.88 260.75 L433.12 259.25 L428.38 257.25 L423.62 255.75 L420.88 254.50 L418.88 254.00 L418.12 253.50 L414.88 252.50 L414.25 251.88 L439.12 242.75 L439.88 242.25 L444.62 240.75 L455.38 236.50 L457.38 236.00 L462.12 234.00 L464.12 233.50 L472.88 230.00 L474.38 229.75 L485.38 226.00 L491.88 223.25 L500.12 218.75 L506.88 214.00 L511.88 209.75 L521.25 199.88 L527.25 192.12 L533.00 183.62 L542.62 167.00 L542.75 167.62 L542.00 170.12 L541.25 174.62 L537.75 188.88 L536.75 191.62 L536.25 194.12 L535.75 194.88 L535.75 195.62 L531.75 207.12 L529.00 213.62 L527.25 216.88 L527.25 217.38 L524.50 222.62 L520.50 229.38 L514.75 237.62 L515.12 238.00 L516.62 238.00 L521.88 239.00 L540.12 241.25 L540.25 241.62 L529.62 249.25 L508.88 263.00 L495.88 271.00 L483.88 277.75Z" fill-rule="evenodd"/></clipPath>
<g clip-path="url(#su5)" stroke-opacity="0.07"><line x1="414.30" y1="252.04" x2="473.65" y2="230.01" stroke="#000" stroke-width="0.6"/>
<line x1="473.65" y1="230.01" x2="540.00" y2="248.67" stroke="#000" stroke-width="0.6"/>
<line x1="413.64" y1="235.04" x2="473.57" y2="215.21" stroke="#000" stroke-width="0.6"/>
<line x1="473.57" y1="215.21" x2="540.54" y2="232.08" stroke="#000" stroke-width="0.6"/>
<line x1="412.97" y1="217.72" x2="473.49" y2="200.16" stroke="#000" stroke-width="0.6"/>
<line x1="473.49" y1="200.16" x2="541.08" y2="215.19" stroke="#000" stroke-width="0.6"/>
<line x1="412.28" y1="200.06" x2="473.41" y2="184.86" stroke="#000" stroke-width="0.6"/>
<line x1="473.41" y1="184.86" x2="541.63" y2="197.97" stroke="#000" stroke-width="0.6"/>
<line x1="411.58" y1="182.05" x2="473.33" y2="169.30" stroke="#000" stroke-width="0.6"/>
<line x1="473.33" y1="169.30" x2="542.20" y2="180.43" stroke="#000" stroke-width="0.6"/>
<line x1="410.87" y1="163.69" x2="473.25" y2="153.48" stroke="#000" stroke-width="0.6"/>
<line x1="473.25" y1="153.48" x2="542.77" y2="162.54" stroke="#000" stroke-width="0.6"/>
<line x1="414.30" y1="252.04" x2="410.87" y2="163.69" stroke="#000" stroke-width="0.6"/>
<line x1="423.92" y1="248.47" x2="421.04" y2="162.02" stroke="#000" stroke-width="0.6"/>
<line x1="441.92" y1="241.78" x2="440.01" y2="158.92" stroke="#000" stroke-width="0.6"/>
<line x1="458.44" y1="235.65" x2="457.35" y2="156.08" stroke="#000" stroke-width="0.6"/>
<line x1="473.65" y1="230.01" x2="473.25" y2="153.48" stroke="#000" stroke-width="0.6"/>
<line x1="473.65" y1="230.01" x2="473.25" y2="153.48" stroke="#000" stroke-width="0.6"/>
<line x1="483.62" y1="232.81" x2="483.65" y2="154.84" stroke="#000" stroke-width="0.6"/>
<line x1="493.99" y1="235.73" x2="494.48" y2="156.25" stroke="#000" stroke-width="0.6"/>
<line x1="504.79" y1="238.76" x2="505.78" y2="157.72" stroke="#000" stroke-width="0.6"/>
<line x1="516.04" y1="241.93" x2="517.57" y2="159.26" stroke="#000" stroke-width="0.6"/>
<line x1="527.76" y1="245.22" x2="529.89" y2="160.86" stroke="#000" stroke-width="0.6"/>
<line x1="540.00" y1="248.67" x2="542.77" y2="162.54" stroke="#000" stroke-width="0.6"/>
<line x1="424.55" y1="255.81" x2="483.62" y2="232.81" stroke="#000" stroke-width="0.6"/>
<line x1="435.28" y1="259.75" x2="493.99" y2="235.73" stroke="#000" stroke-width="0.6"/>
<line x1="446.53" y1="263.89" x2="504.79" y2="238.76" stroke="#000" stroke-width="0.6"/>
<line x1="458.33" y1="268.23" x2="516.04" y2="241.93" stroke="#000" stroke-width="0.6"/>
<line x1="470.73" y1="272.79" x2="527.76" y2="245.22" stroke="#000" stroke-width="0.6"/>
<line x1="483.77" y1="277.58" x2="540.00" y2="248.67" stroke="#000" stroke-width="0.6"/>
<line x1="423.92" y1="248.47" x2="493.05" y2="272.81" stroke="#000" stroke-width="0.6"/>
<line x1="441.92" y1="241.78" x2="510.24" y2="263.97" stroke="#000" stroke-width="0.6"/>
<line x1="458.44" y1="235.65" x2="525.82" y2="255.96" stroke="#000" stroke-width="0.6"/>
<line x1="473.65" y1="230.01" x2="540.00" y2="248.67" stroke="#000" stroke-width="0.6"/></g>
<clipPath id="or5"><path d="M483.88 277.75 L479.88 276.25 L479.38 276.25 L478.62 275.75 L477.38 275.50 L476.62 275.00 L474.62 274.50 L473.88 274.00 L471.88 273.50 L469.12 272.25 L467.12 271.75 L464.38 270.50 L462.38 270.00 L461.62 269.50 L460.38 269.25 L457.62 268.00 L455.62 267.50 L454.88 267.00 L452.88 266.50 L452.12 266.00 L450.12 265.50 L447.38 264.25 L445.38 263.75 L442.62 262.50 L440.62 262.00 L437.88 260.75 L435.88 260.25 L435.12 259.75 L434.62 259.75 L433.62 259.25 L433.12 259.25 L432.38 258.75 L431.12 258.50 L428.38 257.25 L427.88 257.25 L427.62 257.00 L426.38 256.75 L425.62 256.25 L423.62 255.75 L420.88 254.50 L418.88 254.00 L418.12 253.50 L414.88 252.50 L414.38 252.25 L414.25 251.88 L415.62 251.50 L416.38 251.00 L417.62 250.75 L418.38 250.25 L419.62 250.00 L420.38 249.50 L422.38 249.00 L423.12 248.50 L424.38 248.25 L425.12 247.75 L426.38 247.50 L427.12 247.00 L428.38 246.75 L429.12 246.25 L433.12 245.00 L433.88 244.50 L435.12 244.25 L435.88 243.75 L437.12 243.50 L437.88 243.00 L439.12 242.75 L439.88 242.25 L440.38 242.25 L441.38 241.75 L441.88 241.75 L442.62 241.25 L444.62 240.75 L446.62 239.75 L448.62 239.25 L449.38 238.75 L450.62 238.50 L451.38 238.00 L454.62 237.00 L455.38 236.50 L457.38 236.00 L458.12 235.50 L459.38 235.25 L462.12 234.00 L464.12 233.50 L464.88 233.00 L466.12 232.75 L466.88 232.25 L467.38 232.25 L468.88 231.50 L470.12 231.25 L470.88 230.75 L472.12 230.50 L472.88 230.00 L474.62 230.00 L474.88 230.25 L475.62 230.25 L476.62 230.75 L477.62 230.75 L478.88 231.25 L479.62 231.25 L479.88 231.50 L480.88 231.50 L482.12 232.00 L483.12 232.00 L484.38 232.50 L485.38 232.50 L485.62 232.75 L486.62 232.75 L486.88 233.00 L487.88 233.00 L488.12 233.25 L489.12 233.25 L489.38 233.50 L490.38 233.50 L490.62 233.75 L494.12 234.25 L494.38 234.50 L495.62 234.50 L495.88 234.75 L498.38 235.00 L498.62 235.25 L499.62 235.25 L499.88 235.50 L501.12 235.50 L501.38 235.75 L502.62 235.75 L502.88 236.00 L504.12 236.00 L504.38 236.25 L505.62 236.25 L505.88 236.50 L507.12 236.50 L507.38 236.75 L508.62 236.75 L508.88 237.00 L510.12 237.00 L510.38 237.25 L511.62 237.25 L511.88 237.50 L514.38 237.75 L514.50 238.12 L513.75 238.88 L513.25 239.88 L512.50 240.62 L507.25 247.88 L506.25 248.88 L501.25 255.62 L498.25 259.12 L497.75 260.12 L495.75 262.38 L495.00 263.62 L493.00 265.88 L492.25 267.12 L491.25 268.12 L488.75 271.62 L487.50 272.88 L483.88 277.75Z" fill-rule="evenodd"/></clipPath>
<g clip-path="url(#or5)" stroke-opacity="0.45"><line x1="424.55" y1="255.81" x2="483.62" y2="232.81" stroke="#ff3a10" stroke-width="0.6"/>
<line x1="435.28" y1="259.75" x2="493.99" y2="235.73" stroke="#ff3a10" stroke-width="0.6"/>
<line x1="446.53" y1="263.89" x2="504.79" y2="238.76" stroke="#ff3a10" stroke-width="0.6"/>
<line x1="458.33" y1="268.23" x2="516.04" y2="241.93" stroke="#ff3a10" stroke-width="0.6"/>
<line x1="470.73" y1="272.79" x2="527.76" y2="245.22" stroke="#ff3a10" stroke-width="0.6"/>
<line x1="423.92" y1="248.47" x2="493.05" y2="272.81" stroke="#ff3a10" stroke-width="0.6"/>
<line x1="441.92" y1="241.78" x2="510.24" y2="263.97" stroke="#ff3a10" stroke-width="0.6"/>
<line x1="458.44" y1="235.65" x2="525.82" y2="255.96" stroke="#ff3a10" stroke-width="0.6"/></g>
<line x1="414.30" y1="252.04" x2="483.77" y2="277.58" stroke="#18a040" stroke-width="0.7"/>
<line x1="414.30" y1="252.04" x2="410.87" y2="163.69" stroke="#555" stroke-width="0.8"/>
<line x1="412.70" y1="252.04" x2="414.30" y2="252.04" stroke="#555" stroke-width="0.6"/>
<text transform="matrix(0.9375 -0.3480 0.0387 0.9992 412.30 254.04)" font-size="5.6" text-anchor="end" font-weight="normal" fill="#222">0</text>
<line x1="412.04" y1="235.04" x2="413.64" y2="235.04" stroke="#555" stroke-width="0.6"/>
<text transform="matrix(0.9493 -0.3142 0.0387 0.9992 411.64 237.04)" font-size="5.6" text-anchor="end" font-weight="normal" fill="#222">500</text>
<line x1="411.37" y1="217.72" x2="412.97" y2="217.72" stroke="#555" stroke-width="0.6"/>
<text transform="matrix(0.9604 -0.2787 0.0387 0.9992 410.97 219.72)" font-size="5.6" text-anchor="end" font-weight="normal" fill="#222">1000</text>
<line x1="410.68" y1="200.06" x2="412.28" y2="200.06" stroke="#555" stroke-width="0.6"/>
<text transform="matrix(0.9704 -0.2413 0.0387 0.9992 410.28 202.06)" font-size="5.6" text-anchor="end" font-weight="normal" fill="#222">1500</text>
<line x1="409.98" y1="182.05" x2="411.58" y2="182.05" stroke="#555" stroke-width="0.6"/>
<text transform="matrix(0.9793 -0.2022 0.0387 0.9992 409.58 184.05)" font-size="5.6" text-anchor="end" font-weight="normal" fill="#222">2000</text>
<line x1="409.27" y1="163.69" x2="410.87" y2="163.69" stroke="#555" stroke-width="0.6"/>
<text transform="matrix(0.9869 -0.1615 0.0387 0.9992 408.87 165.69)" font-size="5.6" text-anchor="end" font-weight="normal" fill="#222">2500</text>
<text transform="matrix(0.9319 -0.3628 1.0305 0.3849 423.28 257.46)" font-size="5.0" text-anchor="end" font-weight="normal" fill="#222" stroke="#222" stroke-width="0.25">500</text>
<text transform="matrix(0.9255 -0.3787 1.0305 0.3849 434.02 261.47)" font-size="5.0" text-anchor="end" font-weight="normal" fill="#222" stroke="#222" stroke-width="0.25">1000</text>
<text transform="matrix(0.9182 -0.3960 1.0305 0.3849 445.28 265.68)" font-size="5.0" text-anchor="end" font-weight="normal" fill="#222" stroke="#222" stroke-width="0.25">1500</text>
<text transform="matrix(0.9099 -0.4148 1.0305 0.3849 457.11 270.09)" font-size="5.0" text-anchor="end" font-weight="normal" fill="#222" stroke="#222" stroke-width="0.25">2000</text>
<text transform="matrix(0.9004 -0.4351 1.0305 0.3849 469.53 274.73)" font-size="5.0" text-anchor="end" font-weight="normal" fill="#222" stroke="#222" stroke-width="0.25">2500</text>
<text transform="matrix(0.8893 -0.4573 1.0305 0.3849 482.60 279.61)" font-size="5.0" text-anchor="end" font-weight="normal" fill="#222" stroke="#222" stroke-width="0.25">3000</text>
<text transform="matrix(0.9267 0.3757 -0.7969 0.2958 399.08 264.40)" font-size="8.1" text-anchor="start" font-weight="normal" fill="#222" stroke="#222" stroke-width="0.4">Frequency (kHz)</text>
<line x1="483.77" y1="277.58" x2="540.00" y2="248.67" stroke="#555" stroke-width="0.6"/>
<text transform="translate(497.0,275.2) rotate(-28) scale(1,0.8)" font-size="3.2" font-weight="bold" text-anchor="middle" fill="#222">10</text>
<text transform="translate(514.2,266.4) rotate(-28) scale(1,0.8)" font-size="3.2" font-weight="bold" text-anchor="middle" fill="#222">20</text>
<text transform="translate(529.8,258.4) rotate(-28) scale(1,0.8)" font-size="3.2" font-weight="bold" text-anchor="middle" fill="#222">30</text>
<text transform="translate(544.0,251.1) rotate(-28) scale(1,0.8)" font-size="3.2" font-weight="bold" text-anchor="middle" fill="#222">40</text>
<text transform="translate(514.0,275.1) rotate(-27) scale(1,0.75)" font-size="7" font-weight="normal" fill="#222" stroke="#222" stroke-width="0.45">B<tspan font-size="4.6" dy="1.3">m</tspan><tspan dy="-1.3"> (mT)</tspan></text>
<text transform="translate(396.3,244.9) rotate(-90)" font-size="8.2" font-weight="bold" fill="#222" textLength="58.2" lengthAdjust="spacingAndGlyphs">P<tspan font-size="5.6" font-weight="normal" dy="1.8">exc</tspan><tspan dy="-1.8"> (kW / m</tspan><tspan font-size="5.4" dy="-3.2">3</tspan><tspan dy="3.2">)</tspan></text>
<text x="382.1" y="165.5" font-size="9.8" fill="#222" style="font-family:'DejaVu Sans',sans-serif;font-stretch:normal" stroke="#222" stroke-width="0.25">(f)</text>
<text x="438.5" y="170.7" font-size="7.7" font-weight="bold" fill="#222">Excess Loss</text>
<polygon points="425.1,173.5 433.5,173.5 431.1,180.6 422.7,180.6" fill="#fc6262"/>
<text x="438.5" y="180.2" font-size="7.7" fill="#222" stroke="#222" stroke-width="0.18">None easy-plane FeSi<tspan font-size="5.8" fill="#555" stroke="none" dy="1.6">3.5</tspan></text>
<text x="438.5" y="187.9" font-size="7.7" fill="#222" stroke="#222" stroke-width="0.18">composite</text>
<polygon points="425.1,192.8 433.5,192.8 431.1,199.9 422.7,199.9" fill="#0be05c"/>
<text x="438.5" y="199.5" font-size="7.7" fill="#222" stroke="#222" stroke-width="0.18">Easy-plane FeSi<tspan font-size="5.8" fill="#555" stroke="none" dy="1.6">3.5</tspan></text>
<text x="438.5" y="207.2" font-size="7.7" fill="#222" stroke="#222" stroke-width="0.18">composite</text>
</svg></body></html>
